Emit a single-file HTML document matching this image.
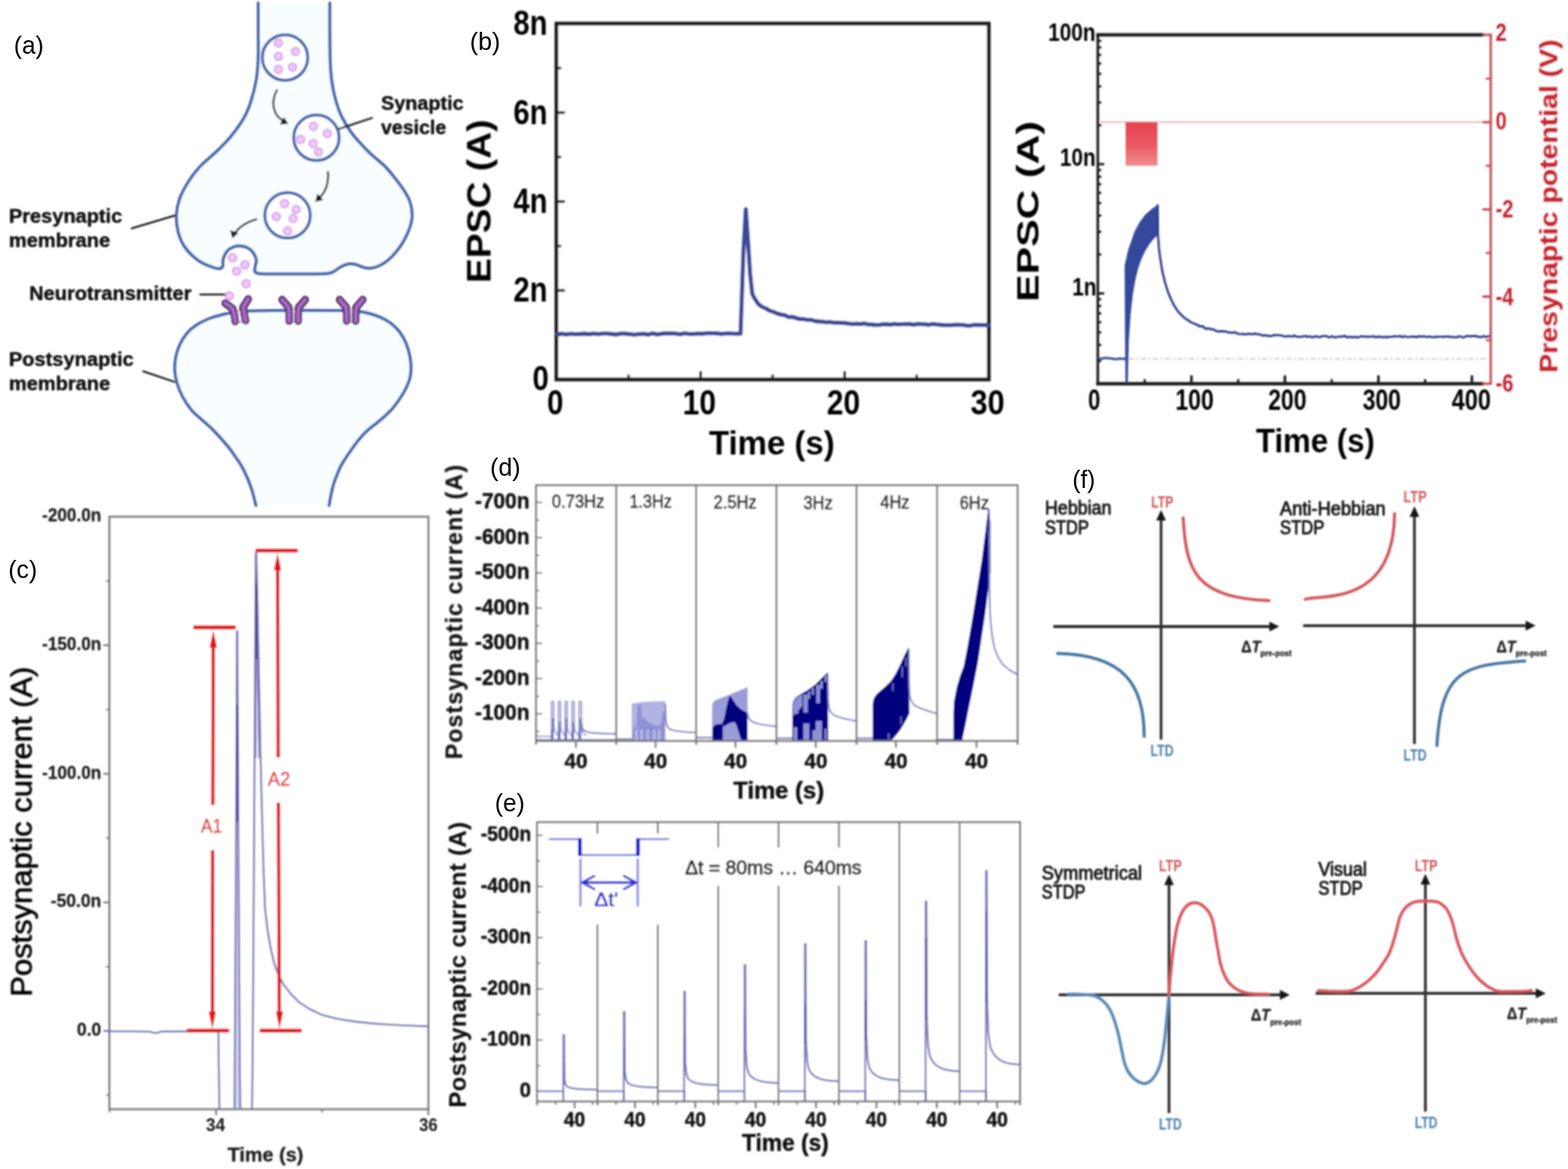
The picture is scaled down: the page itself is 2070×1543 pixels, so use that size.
<!DOCTYPE html>
<html lang="en"><head><meta charset="utf-8"><title>Synaptic plasticity figure</title>
<style>html,body{margin:0;padding:0;background:#fff;}body{width:2070px;height:1543px;overflow:hidden;}svg{display:block;}text{font-family:"Liberation Sans",Arial,Helvetica,sans-serif;}</style>
</head><body>
<svg width="2070" height="1543" viewBox="0 0 2070 1543">
<defs><filter id="bla" filterUnits="userSpaceOnUse" x="0" y="0" width="2070" height="1543"><feGaussianBlur stdDeviation="0.9"/></filter><filter id="blb" filterUnits="userSpaceOnUse" x="0" y="0" width="2070" height="1543"><feGaussianBlur stdDeviation="0.9"/></filter><filter id="blc" filterUnits="userSpaceOnUse" x="0" y="0" width="2070" height="1543"><feGaussianBlur stdDeviation="0.9"/></filter><filter id="bld" filterUnits="userSpaceOnUse" x="0" y="0" width="2070" height="1543"><feGaussianBlur stdDeviation="0.9"/></filter><filter id="ble" filterUnits="userSpaceOnUse" x="0" y="0" width="2070" height="1543"><feGaussianBlur stdDeviation="0.9"/></filter><filter id="blf" filterUnits="userSpaceOnUse" x="0" y="0" width="2070" height="1543"><feGaussianBlur stdDeviation="0.9"/></filter></defs>
<rect x="0" y="0" width="2070" height="1543" fill="#fff"/>
<g filter="url(#bla)">
<path d="M341.0,4.0 C341.0,10.0 341.0,28.2 341.0,40.0 C341.0,51.8 341.4,64.2 341.0,75.0 C340.6,85.8 340.2,95.0 338.5,105.0 C336.8,115.0 333.8,126.5 331.0,135.0 C328.2,143.5 326.3,148.5 322.0,156.0 C317.7,163.5 310.7,173.0 305.0,180.0 C299.3,187.0 294.8,191.3 288.0,198.0 C281.2,204.7 270.8,212.7 264.0,220.0 C257.2,227.3 251.9,234.8 247.4,242.0 C242.9,249.2 239.4,256.0 237.0,263.0 C234.6,270.0 233.3,276.8 233.0,284.0 C232.7,291.2 233.5,299.0 235.3,306.0 C237.1,313.0 239.6,319.7 244.0,326.0 C248.4,332.3 255.9,339.3 261.7,343.6 C267.5,347.9 274.3,350.2 279.0,352.0 C283.7,353.8 287.5,354.7 290.0,354.5 C292.5,354.3 293.2,353.1 294.0,351.0 C294.8,348.9 293.5,345.3 294.5,342.0 C295.5,338.7 297.6,333.8 300.0,331.0 C302.4,328.2 306.2,326.6 309.0,325.5 C311.8,324.4 314.2,324.3 317.0,324.5 C319.8,324.7 323.2,325.1 326.0,326.5 C328.8,327.9 331.9,330.2 334.0,333.0 C336.1,335.8 338.0,339.8 338.5,343.0 C339.0,346.2 337.3,349.5 337.0,352.0 C336.7,354.5 335.7,356.5 336.5,358.0 C337.3,359.5 338.1,360.4 342.0,361.0 C345.9,361.6 350.3,361.4 360.0,361.5 C369.7,361.6 388.1,361.6 400.0,361.5 C411.9,361.4 424.6,361.6 431.4,361.0 C438.2,360.4 437.9,359.5 441.0,358.0 C444.1,356.5 446.8,353.6 450.0,352.0 C453.2,350.4 456.7,348.8 460.0,348.3 C463.3,347.8 466.8,348.3 470.0,349.0 C473.2,349.7 476.0,351.7 479.0,352.5 C482.0,353.3 484.5,354.2 488.0,354.0 C491.5,353.8 496.0,352.8 500.0,351.0 C504.0,349.2 508.0,346.8 512.0,343.5 C516.0,340.2 520.3,335.6 524.0,331.0 C527.7,326.4 531.2,321.2 534.0,316.0 C536.8,310.8 539.3,305.3 541.0,300.0 C542.7,294.7 544.0,289.7 544.0,284.0 C544.0,278.3 542.8,271.5 541.0,266.0 C539.2,260.5 536.2,256.0 533.0,251.0 C529.8,246.0 526.1,241.2 522.0,236.0 C517.9,230.8 512.8,224.5 508.5,220.0 C504.2,215.5 500.1,212.7 496.0,209.0 C491.9,205.3 489.3,203.5 484.0,198.0 C478.7,192.5 469.9,183.3 464.4,176.0 C458.9,168.7 454.6,161.3 451.0,154.0 C447.4,146.7 445.2,139.7 443.0,132.0 C440.8,124.3 439.2,116.7 438.0,108.0 C436.8,99.3 436.2,91.3 435.8,80.0 C435.4,68.7 435.4,52.7 435.3,40.0 C435.2,27.3 435.3,10.0 435.3,4.0 Z" fill="#f8feff" stroke="none"/>
<path d="M341.0,4.0 C341.0,10.0 341.0,28.2 341.0,40.0 C341.0,51.8 341.4,64.2 341.0,75.0 C340.6,85.8 340.2,95.0 338.5,105.0 C336.8,115.0 333.8,126.5 331.0,135.0 C328.2,143.5 326.3,148.5 322.0,156.0 C317.7,163.5 310.7,173.0 305.0,180.0 C299.3,187.0 294.8,191.3 288.0,198.0 C281.2,204.7 270.8,212.7 264.0,220.0 C257.2,227.3 251.9,234.8 247.4,242.0 C242.9,249.2 239.4,256.0 237.0,263.0 C234.6,270.0 233.3,276.8 233.0,284.0 C232.7,291.2 233.5,299.0 235.3,306.0 C237.1,313.0 239.6,319.7 244.0,326.0 C248.4,332.3 255.9,339.3 261.7,343.6 C267.5,347.9 274.3,350.2 279.0,352.0 C283.7,353.8 287.5,354.7 290.0,354.5 C292.5,354.3 293.2,353.1 294.0,351.0 C294.8,348.9 293.5,345.3 294.5,342.0 C295.5,338.7 297.6,333.8 300.0,331.0 C302.4,328.2 306.2,326.6 309.0,325.5 C311.8,324.4 314.2,324.3 317.0,324.5 C319.8,324.7 323.2,325.1 326.0,326.5 C328.8,327.9 331.9,330.2 334.0,333.0 C336.1,335.8 338.0,339.8 338.5,343.0 C339.0,346.2 337.3,349.5 337.0,352.0 C336.7,354.5 335.7,356.5 336.5,358.0 C337.3,359.5 338.1,360.4 342.0,361.0 C345.9,361.6 350.3,361.4 360.0,361.5 C369.7,361.6 388.1,361.6 400.0,361.5 C411.9,361.4 424.6,361.6 431.4,361.0 C438.2,360.4 437.9,359.5 441.0,358.0 C444.1,356.5 446.8,353.6 450.0,352.0 C453.2,350.4 456.7,348.8 460.0,348.3 C463.3,347.8 466.8,348.3 470.0,349.0 C473.2,349.7 476.0,351.7 479.0,352.5 C482.0,353.3 484.5,354.2 488.0,354.0 C491.5,353.8 496.0,352.8 500.0,351.0 C504.0,349.2 508.0,346.8 512.0,343.5 C516.0,340.2 520.3,335.6 524.0,331.0 C527.7,326.4 531.2,321.2 534.0,316.0 C536.8,310.8 539.3,305.3 541.0,300.0 C542.7,294.7 544.0,289.7 544.0,284.0 C544.0,278.3 542.8,271.5 541.0,266.0 C539.2,260.5 536.2,256.0 533.0,251.0 C529.8,246.0 526.1,241.2 522.0,236.0 C517.9,230.8 512.8,224.5 508.5,220.0 C504.2,215.5 500.1,212.7 496.0,209.0 C491.9,205.3 489.3,203.5 484.0,198.0 C478.7,192.5 469.9,183.3 464.4,176.0 C458.9,168.7 454.6,161.3 451.0,154.0 C447.4,146.7 445.2,139.7 443.0,132.0 C440.8,124.3 439.2,116.7 438.0,108.0 C436.8,99.3 436.2,91.3 435.8,80.0 C435.4,68.7 435.4,52.7 435.3,40.0 C435.2,27.3 435.3,10.0 435.3,4.0" fill="none" stroke="#4164ab" stroke-width="4.0" stroke-linejoin="round" stroke-linecap="round" />
<path d="M338.0,667.0 C337.0,663.2 334.6,652.1 331.9,644.3 C329.2,636.5 325.2,626.9 321.7,620.0 C318.2,613.1 314.4,608.1 311.0,603.0 C307.6,597.9 306.4,595.6 301.4,589.6 C296.4,583.6 286.9,573.0 281.0,567.0 C275.1,561.0 270.7,557.9 266.0,553.5 C261.3,549.1 256.9,546.0 252.7,540.9 C248.5,535.8 243.8,528.7 240.6,522.6 C237.4,516.5 235.1,509.9 233.5,504.3 C231.9,498.7 231.1,494.4 230.8,489.0 C230.6,483.6 231.0,477.5 232.0,472.0 C233.0,466.5 234.7,461.2 237.0,456.0 C239.3,450.8 242.5,445.3 246.0,441.0 C249.5,436.7 253.3,433.2 258.0,430.0 C262.7,426.8 267.8,424.0 274.0,421.5 C280.2,419.0 288.7,416.6 295.0,415.0 C301.3,413.4 306.2,412.8 312.0,412.0 C317.8,411.2 322.0,410.8 330.0,410.5 C338.0,410.2 348.3,410.1 360.0,410.0 C371.7,409.9 386.7,409.8 400.0,409.8 C413.3,409.8 428.3,409.8 440.0,410.0 C451.7,410.2 461.7,410.1 470.0,410.8 C478.3,411.6 483.6,412.6 490.0,414.5 C496.4,416.4 503.2,419.1 508.5,422.0 C513.8,424.9 518.1,428.2 522.0,432.0 C525.9,435.8 529.2,440.0 532.0,445.0 C534.8,450.0 537.3,456.2 539.0,462.0 C540.7,467.8 541.9,474.2 542.3,480.0 C542.7,485.8 542.5,491.7 541.5,497.0 C540.5,502.3 538.1,507.4 536.0,512.0 C533.9,516.6 532.0,519.8 528.7,524.6 C525.5,529.4 521.3,535.7 516.5,540.9 C511.7,546.1 505.4,551.3 500.0,556.0 C494.6,560.7 488.5,564.8 484.0,569.0 C479.5,573.2 476.4,576.9 473.0,581.0 C469.6,585.1 466.9,589.1 463.7,593.6 C460.5,598.1 456.7,603.6 454.0,608.0 C451.3,612.4 449.9,614.3 447.5,620.0 C445.1,625.7 441.6,634.2 439.4,642.0 C437.2,649.8 435.1,662.8 434.3,667.0 Z" fill="#f8feff" stroke="none"/>
<path d="M338.0,667.0 C337.0,663.2 334.6,652.1 331.9,644.3 C329.2,636.5 325.2,626.9 321.7,620.0 C318.2,613.1 314.4,608.1 311.0,603.0 C307.6,597.9 306.4,595.6 301.4,589.6 C296.4,583.6 286.9,573.0 281.0,567.0 C275.1,561.0 270.7,557.9 266.0,553.5 C261.3,549.1 256.9,546.0 252.7,540.9 C248.5,535.8 243.8,528.7 240.6,522.6 C237.4,516.5 235.1,509.9 233.5,504.3 C231.9,498.7 231.1,494.4 230.8,489.0 C230.6,483.6 231.0,477.5 232.0,472.0 C233.0,466.5 234.7,461.2 237.0,456.0 C239.3,450.8 242.5,445.3 246.0,441.0 C249.5,436.7 253.3,433.2 258.0,430.0 C262.7,426.8 267.8,424.0 274.0,421.5 C280.2,419.0 288.7,416.6 295.0,415.0 C301.3,413.4 306.2,412.8 312.0,412.0 C317.8,411.2 322.0,410.8 330.0,410.5 C338.0,410.2 348.3,410.1 360.0,410.0 C371.7,409.9 386.7,409.8 400.0,409.8 C413.3,409.8 428.3,409.8 440.0,410.0 C451.7,410.2 461.7,410.1 470.0,410.8 C478.3,411.6 483.6,412.6 490.0,414.5 C496.4,416.4 503.2,419.1 508.5,422.0 C513.8,424.9 518.1,428.2 522.0,432.0 C525.9,435.8 529.2,440.0 532.0,445.0 C534.8,450.0 537.3,456.2 539.0,462.0 C540.7,467.8 541.9,474.2 542.3,480.0 C542.7,485.8 542.5,491.7 541.5,497.0 C540.5,502.3 538.1,507.4 536.0,512.0 C533.9,516.6 532.0,519.8 528.7,524.6 C525.5,529.4 521.3,535.7 516.5,540.9 C511.7,546.1 505.4,551.3 500.0,556.0 C494.6,560.7 488.5,564.8 484.0,569.0 C479.5,573.2 476.4,576.9 473.0,581.0 C469.6,585.1 466.9,589.1 463.7,593.6 C460.5,598.1 456.7,603.6 454.0,608.0 C451.3,612.4 449.9,614.3 447.5,620.0 C445.1,625.7 441.6,634.2 439.4,642.0 C437.2,649.8 435.1,662.8 434.3,667.0" fill="none" stroke="#4164ab" stroke-width="4.0" stroke-linejoin="round" stroke-linecap="round" />
<circle cx="376.3" cy="76.0" r="30.0" fill="#ffffff" stroke="#4164ab" stroke-width="4.0"/>
<circle cx="367.5" cy="56.9" r="5.2" fill="#f3c8fd" stroke="#d3a0ec" stroke-width="2.0"/>
<circle cx="390.0" cy="67.9" r="5.2" fill="#f3c8fd" stroke="#d3a0ec" stroke-width="2.0"/>
<circle cx="367.5" cy="74.5" r="5.2" fill="#f3c8fd" stroke="#d3a0ec" stroke-width="2.0"/>
<circle cx="386.2" cy="88.6" r="5.2" fill="#f3c8fd" stroke="#d3a0ec" stroke-width="2.0"/>
<circle cx="367.5" cy="91.5" r="5.2" fill="#f3c8fd" stroke="#d3a0ec" stroke-width="2.0"/>
<circle cx="417.7" cy="181.8" r="30.0" fill="#ffffff" stroke="#4164ab" stroke-width="4.0"/>
<circle cx="413.7" cy="166.8" r="5.2" fill="#f3c8fd" stroke="#d3a0ec" stroke-width="2.0"/>
<circle cx="432.0" cy="176.3" r="5.2" fill="#f3c8fd" stroke="#d3a0ec" stroke-width="2.0"/>
<circle cx="396.8" cy="184.0" r="5.2" fill="#f3c8fd" stroke="#d3a0ec" stroke-width="2.0"/>
<circle cx="413.3" cy="189.5" r="5.2" fill="#f3c8fd" stroke="#d3a0ec" stroke-width="2.0"/>
<circle cx="420.4" cy="200.5" r="5.2" fill="#f3c8fd" stroke="#d3a0ec" stroke-width="2.0"/>
<circle cx="379.6" cy="284.3" r="30.0" fill="#ffffff" stroke="#4164ab" stroke-width="4.0"/>
<circle cx="375.8" cy="268.8" r="5.2" fill="#f3c8fd" stroke="#d3a0ec" stroke-width="2.0"/>
<circle cx="391.0" cy="276.6" r="5.2" fill="#f3c8fd" stroke="#d3a0ec" stroke-width="2.0"/>
<circle cx="364.8" cy="286.0" r="5.2" fill="#f3c8fd" stroke="#d3a0ec" stroke-width="2.0"/>
<circle cx="386.9" cy="288.7" r="5.2" fill="#f3c8fd" stroke="#d3a0ec" stroke-width="2.0"/>
<circle cx="379.6" cy="304.8" r="5.2" fill="#f3c8fd" stroke="#d3a0ec" stroke-width="2.0"/>
<circle cx="306.9" cy="340.3" r="5.2" fill="#f3c8fd" stroke="#d3a0ec" stroke-width="2.0"/>
<circle cx="323.4" cy="349.5" r="5.2" fill="#f3c8fd" stroke="#d3a0ec" stroke-width="2.0"/>
<circle cx="312.4" cy="357.9" r="5.2" fill="#f3c8fd" stroke="#d3a0ec" stroke-width="2.0"/>
<circle cx="325.0" cy="374.4" r="5.2" fill="#f3c8fd" stroke="#d3a0ec" stroke-width="2.0"/>
<circle cx="302.5" cy="390.5" r="5.2" fill="#f3c8fd" stroke="#d3a0ec" stroke-width="2.0"/>
<path d="M365.5,119 C357,135 360,153 376,160.5" fill="none" stroke="#141414" stroke-width="2.6" stroke-linejoin="round" stroke-linecap="round" />
<polygon points="380.6,163.2 369.6,164.6 374.6,154.4" fill="#141414" stroke="none" stroke-width="0" stroke-linejoin="round" />
<path d="M432.8,227 C434.5,243 429,255 420,262.5" fill="none" stroke="#141414" stroke-width="2.6" stroke-linejoin="round" stroke-linecap="round" />
<polygon points="416.2,266.6 419.0,255.6 426.6,264.0" fill="#141414" stroke="none" stroke-width="0" stroke-linejoin="round" />
<path d="M338.5,289.5 C326,293 315,300 309.5,309" fill="none" stroke="#141414" stroke-width="2.6" stroke-linejoin="round" stroke-linecap="round" />
<polygon points="306.8,314.8 303.8,303.8 314.6,307.4" fill="#141414" stroke="none" stroke-width="0" stroke-linejoin="round" />
<polygon points="312.2,410.0 318.6,409.0 321.8,424.6 313.0,425.6" fill="#f3e2fb" stroke="#8a8490" stroke-width="1.2" stroke-linejoin="round" />
<polyline points="297.4,400.2 306.8,407.2 309.2,415.0 310.4,424.6" fill="none" stroke="#40214f" stroke-width="10.0" stroke-linejoin="round" stroke-linecap="round"/>
<polyline points="327.6,394.8 320.9,405.6 322.6,415.0 324.4,423.4" fill="none" stroke="#40214f" stroke-width="10.0" stroke-linejoin="round" stroke-linecap="round"/>
<polyline points="297.4,400.2 306.8,407.2 309.2,415.0 310.4,424.6" fill="none" stroke="#a868c6" stroke-width="5.4" stroke-linejoin="round" stroke-linecap="round"/>
<polyline points="327.6,394.8 320.9,405.6 322.6,415.0 324.4,423.4" fill="none" stroke="#a868c6" stroke-width="5.4" stroke-linejoin="round" stroke-linecap="round"/>
<polygon points="384.3,408.0 391.1,408.0 391.3,424.8 384.1,424.8" fill="#f3e2fb" stroke="#8a8490" stroke-width="1.2" stroke-linejoin="round" />
<polyline points="372.5,395.6 381.1,405.8 381.7,415.0 381.7,424.0" fill="none" stroke="#40214f" stroke-width="10.0" stroke-linejoin="round" stroke-linecap="round"/>
<polyline points="402.9,395.6 394.3,405.8 393.7,415.0 393.7,424.0" fill="none" stroke="#40214f" stroke-width="10.0" stroke-linejoin="round" stroke-linecap="round"/>
<polyline points="372.5,395.6 381.1,405.8 381.7,415.0 381.7,424.0" fill="none" stroke="#a868c6" stroke-width="5.4" stroke-linejoin="round" stroke-linecap="round"/>
<polyline points="402.9,395.6 394.3,405.8 393.7,415.0 393.7,424.0" fill="none" stroke="#a868c6" stroke-width="5.4" stroke-linejoin="round" stroke-linecap="round"/>
<polygon points="460.2,408.0 467.0,408.0 467.2,424.8 460.0,424.8" fill="#f3e2fb" stroke="#8a8490" stroke-width="1.2" stroke-linejoin="round" />
<polyline points="448.4,395.6 457.0,405.8 457.6,415.0 457.6,424.0" fill="none" stroke="#40214f" stroke-width="10.0" stroke-linejoin="round" stroke-linecap="round"/>
<polyline points="478.8,395.6 470.2,405.8 469.6,415.0 469.6,424.0" fill="none" stroke="#40214f" stroke-width="10.0" stroke-linejoin="round" stroke-linecap="round"/>
<polyline points="448.4,395.6 457.0,405.8 457.6,415.0 457.6,424.0" fill="none" stroke="#a868c6" stroke-width="5.4" stroke-linejoin="round" stroke-linecap="round"/>
<polyline points="478.8,395.6 470.2,405.8 469.6,415.0 469.6,424.0" fill="none" stroke="#a868c6" stroke-width="5.4" stroke-linejoin="round" stroke-linecap="round"/>
<line x1="173.0" y1="301.8" x2="231.5" y2="284.3" stroke="#1e1e1e" stroke-width="2.5" />
<line x1="263.4" y1="388.7" x2="297.4" y2="388.7" stroke="#1e1e1e" stroke-width="2.5" />
<line x1="188.2" y1="489.8" x2="231.3" y2="504.4" stroke="#1e1e1e" stroke-width="2.5" />
<line x1="492.0" y1="155.4" x2="445.7" y2="170.8" stroke="#1e1e1e" stroke-width="2.5" />
<text x="11.7" y="293.5" font-size="26" font-weight="bold" fill="#080808" textLength="149.7" lengthAdjust="spacingAndGlyphs" stroke="#080808" stroke-width="0.4" stroke-linejoin="round">Presynaptic</text>
<text x="11.7" y="325.5" font-size="26" font-weight="bold" fill="#080808" textLength="133.7" lengthAdjust="spacingAndGlyphs" stroke="#080808" stroke-width="0.4" stroke-linejoin="round">membrane</text>
<text x="38.5" y="395.5" font-size="26" font-weight="bold" fill="#080808" textLength="214.2" lengthAdjust="spacingAndGlyphs" stroke="#080808" stroke-width="0.4" stroke-linejoin="round">Neurotransmitter</text>
<text x="11.7" y="483.0" font-size="26" font-weight="bold" fill="#080808" textLength="164.8" lengthAdjust="spacingAndGlyphs" stroke="#080808" stroke-width="0.4" stroke-linejoin="round">Postsynaptic</text>
<text x="11.7" y="514.5" font-size="26" font-weight="bold" fill="#080808" textLength="133.7" lengthAdjust="spacingAndGlyphs" stroke="#080808" stroke-width="0.4" stroke-linejoin="round">membrane</text>
<text x="503.0" y="145.4" font-size="26" font-weight="bold" fill="#080808" textLength="109.0" lengthAdjust="spacingAndGlyphs" stroke="#080808" stroke-width="0.4" stroke-linejoin="round">Synaptic</text>
<text x="503.0" y="177.4" font-size="26" font-weight="bold" fill="#080808" textLength="86.0" lengthAdjust="spacingAndGlyphs" stroke="#080808" stroke-width="0.4" stroke-linejoin="round">vesicle</text>
</g>
<g filter="url(#blc)">
<rect x="144.5" y="682.1" width="420.9" height="781.9" fill="#fff" stroke="#7c7c7c" stroke-width="2.8" />
<line x1="136.5" y1="851.7" x2="144.5" y2="851.7" stroke="#7c7c7c" stroke-width="2.4" />
<line x1="136.5" y1="1021.4" x2="144.5" y2="1021.4" stroke="#7c7c7c" stroke-width="2.4" />
<line x1="136.5" y1="1191.1" x2="144.5" y2="1191.1" stroke="#7c7c7c" stroke-width="2.4" />
<line x1="136.5" y1="1360.8" x2="144.5" y2="1360.8" stroke="#7c7c7c" stroke-width="2.4" />
<line x1="140.0" y1="766.9" x2="144.5" y2="766.9" stroke="#7c7c7c" stroke-width="2" />
<line x1="140.0" y1="936.5" x2="144.5" y2="936.5" stroke="#7c7c7c" stroke-width="2" />
<line x1="140.0" y1="1106.2" x2="144.5" y2="1106.2" stroke="#7c7c7c" stroke-width="2" />
<line x1="140.0" y1="1276.0" x2="144.5" y2="1276.0" stroke="#7c7c7c" stroke-width="2" />
<line x1="140.0" y1="1445.6" x2="144.5" y2="1445.6" stroke="#7c7c7c" stroke-width="2" />
<text x="133.6" y="688.2" font-size="23" font-weight="bold" fill="#1c1c1c" text-anchor="end" textLength="78.0" lengthAdjust="spacingAndGlyphs" stroke="#1c1c1c" stroke-width="0.3" stroke-linejoin="round">-200.0n</text>
<text x="133.6" y="857.9" font-size="23" font-weight="bold" fill="#1c1c1c" text-anchor="end" textLength="78.0" lengthAdjust="spacingAndGlyphs" stroke="#1c1c1c" stroke-width="0.3" stroke-linejoin="round">-150.0n</text>
<text x="133.6" y="1027.6" font-size="23" font-weight="bold" fill="#1c1c1c" text-anchor="end" textLength="78.0" lengthAdjust="spacingAndGlyphs" stroke="#1c1c1c" stroke-width="0.3" stroke-linejoin="round">-100.0n</text>
<text x="133.6" y="1197.3" font-size="23" font-weight="bold" fill="#1c1c1c" text-anchor="end" textLength="66.5" lengthAdjust="spacingAndGlyphs" stroke="#1c1c1c" stroke-width="0.3" stroke-linejoin="round">-50.0n</text>
<text x="133.6" y="1367.0" font-size="23" font-weight="bold" fill="#1c1c1c" text-anchor="end" textLength="32.0" lengthAdjust="spacingAndGlyphs" stroke="#1c1c1c" stroke-width="0.3" stroke-linejoin="round">0.0</text>
<line x1="285.3" y1="1464.0" x2="285.3" y2="1472.0" stroke="#7c7c7c" stroke-width="2.4" />
<line x1="565.4" y1="1464.0" x2="565.4" y2="1472.0" stroke="#7c7c7c" stroke-width="2.4" />
<line x1="144.5" y1="1464.0" x2="144.5" y2="1468.5" stroke="#7c7c7c" stroke-width="2" />
<line x1="425.3" y1="1464.0" x2="425.3" y2="1468.5" stroke="#7c7c7c" stroke-width="2" />
<text x="284.5" y="1493.2" font-size="23.5" font-weight="bold" fill="#1c1c1c" text-anchor="middle" textLength="25.5" lengthAdjust="spacingAndGlyphs">34</text>
<text x="565.4" y="1493.2" font-size="23.5" font-weight="bold" fill="#1c1c1c" text-anchor="middle" textLength="24.5" lengthAdjust="spacingAndGlyphs">36</text>
<text x="300.5" y="1533.3" font-size="25.5" font-weight="bold" fill="#1c1c1c" textLength="100.0" lengthAdjust="spacingAndGlyphs" stroke="#1c1c1c" stroke-width="0.35" stroke-linejoin="round">Time (s)</text>
<text x="41.3" y="1315.5" font-size="38" textLength="435.5" lengthAdjust="spacingAndGlyphs" transform="rotate(-90 41.3 1315.5)" stroke="#000" stroke-width="0.8" stroke-linejoin="round">Postsynaptic current (A)</text>
<polyline points="145.5,1361.2 175.0,1361.3 198.0,1361.8 203.0,1363.2 208.0,1363.2 213.0,1361.6 240.0,1361.4 262.0,1361.0 288.2,1360.5 289.6,1463.0" fill="none" stroke="#7478b8" stroke-width="2.6" stroke-linejoin="round" stroke-linecap="round" />
<polygon points="309.8,1463.0 311.0,1250.0 312.6,1130.0 313.8,1130.0 315.4,1250.0 317.0,1463.0" fill="#d3d5f2" stroke="none" stroke-width="0" stroke-linejoin="round" />
<polyline points="309.6,1463.0 310.2,1360.0 311.8,1080.0 312.8,833.0 313.4,833.0 314.6,1080.0 316.2,1360.0 317.2,1463.0" fill="none" stroke="#7478b8" stroke-width="2.6" stroke-linejoin="round" stroke-linecap="round" />
<line x1="313.0" y1="930.0" x2="313.3" y2="1085.0" stroke="#3c4296" stroke-width="2.4" />
<polyline points="332.8,1463.0 333.8,1360.0 335.5,1100.0 337.6,730.0 338.4,730.0 340.0,800.0 342.0,900.0 344.0,1000.0 346.5,1099.0 348.0,1150.0 350.0,1200.0 353.0,1226.0 357.0,1250.0 362.0,1272.0 367.0,1285.0 374.0,1299.0 384.0,1312.0 395.0,1323.0 408.0,1331.5 425.0,1339.6 445.0,1344.8 470.0,1348.6 492.0,1350.9 515.0,1352.5 540.0,1353.7 564.5,1354.6" fill="none" stroke="#7478b8" stroke-width="2.6" stroke-linejoin="round" stroke-linecap="round" />
<polyline points="337.6,1000.0 338.0,780.0 338.6,760.0 340.2,900.0 341.8,1000.0" fill="none" stroke="#6469b4" stroke-width="1.6" stroke-linejoin="round" stroke-linecap="round" />
<line x1="338.0" y1="770.0" x2="338.4" y2="870.0" stroke="#3c4296" stroke-width="2.2" />
<line x1="255.2" y1="828.2" x2="311.2" y2="828.2" stroke="#e3161f" stroke-width="5.2" />
<line x1="337.3" y1="726.6" x2="393.2" y2="726.6" stroke="#e3161f" stroke-width="5.2" />
<line x1="246.5" y1="1360.3" x2="302.5" y2="1360.3" stroke="#e3161f" stroke-width="5.2" />
<line x1="342.8" y1="1360.3" x2="398.3" y2="1360.3" stroke="#e3161f" stroke-width="5.2" />
<line x1="281.5" y1="850.0" x2="281.0" y2="1062.5" stroke="#e3161f" stroke-width="4.6" />
<polygon points="281.6,832.0 276.6,855.0 286.6,855.0" fill="#e3161f" stroke="none" stroke-width="0" stroke-linejoin="round" />
<line x1="280.8" y1="1122.0" x2="280.4" y2="1338.0" stroke="#e3161f" stroke-width="4.6" />
<polygon points="280.3,1358.0 275.4,1335.0 285.2,1335.0" fill="#e3161f" stroke="none" stroke-width="0" stroke-linejoin="round" />
<line x1="366.6" y1="750.0" x2="367.2" y2="999.7" stroke="#e3161f" stroke-width="4.6" />
<polygon points="366.4,730.0 361.5,753.0 371.4,753.0" fill="#e3161f" stroke="none" stroke-width="0" stroke-linejoin="round" />
<line x1="367.6" y1="1059.5" x2="368.8" y2="1338.0" stroke="#e3161f" stroke-width="4.6" />
<polygon points="369.0,1358.0 364.1,1335.0 373.9,1335.0" fill="#e3161f" stroke="none" stroke-width="0" stroke-linejoin="round" />
<text x="265.2" y="1098.5" font-size="26.5" fill="#e2222b" textLength="28.0" lengthAdjust="spacingAndGlyphs" stroke="#e2222b" stroke-width="0.4" stroke-linejoin="round">A1</text>
<text x="353.6" y="1036.6" font-size="26.5" fill="#e2222b" textLength="29.5" lengthAdjust="spacingAndGlyphs" stroke="#e2222b" stroke-width="0.4" stroke-linejoin="round">A2</text>
</g>
<g filter="url(#blb)">
<rect x="734.6" y="31.2" width="570.7" height="469.6" fill="#fff" stroke="#1c1c1c" stroke-width="5.0" />
<line x1="734.6" y1="383.4" x2="745.6" y2="383.4" stroke="#1c1c1c" stroke-width="3.6" />
<line x1="734.6" y1="266.0" x2="745.6" y2="266.0" stroke="#1c1c1c" stroke-width="3.6" />
<line x1="734.6" y1="148.6" x2="745.6" y2="148.6" stroke="#1c1c1c" stroke-width="3.6" />
<line x1="734.6" y1="442.1" x2="741.1" y2="442.1" stroke="#1c1c1c" stroke-width="3.2" />
<line x1="734.6" y1="324.7" x2="741.1" y2="324.7" stroke="#1c1c1c" stroke-width="3.2" />
<line x1="734.6" y1="207.3" x2="741.1" y2="207.3" stroke="#1c1c1c" stroke-width="3.2" />
<line x1="734.6" y1="89.9" x2="741.1" y2="89.9" stroke="#1c1c1c" stroke-width="3.2" />
<line x1="924.8" y1="500.8" x2="924.8" y2="489.8" stroke="#1c1c1c" stroke-width="3.6" />
<line x1="1115.1" y1="500.8" x2="1115.1" y2="489.8" stroke="#1c1c1c" stroke-width="3.6" />
<line x1="829.7" y1="500.8" x2="829.7" y2="494.3" stroke="#1c1c1c" stroke-width="3.2" />
<line x1="1020.0" y1="500.8" x2="1020.0" y2="494.3" stroke="#1c1c1c" stroke-width="3.2" />
<line x1="1210.2" y1="500.8" x2="1210.2" y2="494.3" stroke="#1c1c1c" stroke-width="3.2" />
<text x="722.8" y="46.2" font-size="46" font-weight="bold" fill="#050505" text-anchor="end" textLength="45.0" lengthAdjust="spacingAndGlyphs">8n</text>
<text x="722.8" y="163.6" font-size="46" font-weight="bold" fill="#050505" text-anchor="end" textLength="45.0" lengthAdjust="spacingAndGlyphs">6n</text>
<text x="722.8" y="281.0" font-size="46" font-weight="bold" fill="#050505" text-anchor="end" textLength="45.0" lengthAdjust="spacingAndGlyphs">4n</text>
<text x="722.8" y="398.4" font-size="46" font-weight="bold" fill="#050505" text-anchor="end" textLength="45.0" lengthAdjust="spacingAndGlyphs">2n</text>
<text x="724.5" y="514.8" font-size="46" font-weight="bold" fill="#050505" text-anchor="end" textLength="21.5" lengthAdjust="spacingAndGlyphs">0</text>
<text x="733.1" y="547.3" font-size="46" font-weight="bold" fill="#050505" text-anchor="middle" textLength="21.5" lengthAdjust="spacingAndGlyphs">0</text>
<text x="923.3" y="547.3" font-size="46" font-weight="bold" fill="#050505" text-anchor="middle" textLength="44.0" lengthAdjust="spacingAndGlyphs">10</text>
<text x="1113.6" y="547.3" font-size="46" font-weight="bold" fill="#050505" text-anchor="middle" textLength="44.0" lengthAdjust="spacingAndGlyphs">20</text>
<text x="1303.8" y="547.3" font-size="46" font-weight="bold" fill="#050505" text-anchor="middle" textLength="45.0" lengthAdjust="spacingAndGlyphs">30</text>
<text x="936.0" y="600.0" font-size="45" font-weight="bold" fill="#050505" textLength="166.0" lengthAdjust="spacingAndGlyphs">Time (s)</text>
<text x="647.2" y="373.6" font-size="44" font-weight="bold" fill="#050505" textLength="216.0" lengthAdjust="spacingAndGlyphs" transform="rotate(-90 647.2 373.6)">EPSC (A)</text>
<polyline points="735.6,441.0 741.6,440.6 747.6,441.5 753.6,440.5 759.6,441.3 765.6,440.9 771.6,440.4 777.6,441.1 783.6,440.3 789.6,441.0 795.6,440.3 801.6,440.3 807.6,440.9 813.6,441.6 819.6,440.3 825.6,440.4 831.6,441.1 837.6,441.7 843.6,441.0 849.6,440.6 855.6,441.7 861.6,440.0 867.6,441.4 873.6,440.4 879.6,440.1 885.6,440.0 891.6,440.3 897.6,441.2 903.6,440.0 909.6,440.7 915.6,440.8 921.6,440.3 927.6,440.6 933.6,439.7 939.6,439.7 945.6,439.9 951.6,440.7 957.6,440.3 963.6,440.0 969.6,440.5 975.6,440.2 977.6,440.5 979.2,395.0 981.5,330.0 984.6,276.0 987.5,318.0 990.3,362.0 993.1,388.0 996.0,393.6 1001.0,401.3 1006.0,405.0 1011.0,407.0 1016.0,410.1 1021.0,411.6 1026.0,413.8 1031.0,415.2 1036.0,416.1 1041.0,418.5 1046.0,418.3 1051.0,419.8 1056.0,421.2 1061.0,421.1 1066.0,422.3 1071.0,422.2 1076.0,423.8 1081.0,424.4 1086.0,424.6 1091.0,425.5 1096.0,425.0 1101.0,425.9 1106.0,426.0 1111.0,426.3 1116.0,426.4 1121.0,427.3 1126.0,427.8 1131.0,427.3 1136.0,427.8 1141.0,427.0 1146.0,428.3 1151.0,428.4 1156.0,429.0 1161.0,428.7 1166.0,427.9 1171.0,428.1 1176.0,428.5 1181.0,427.5 1186.0,428.2 1191.0,427.8 1196.0,427.7 1201.0,427.6 1206.0,428.7 1211.0,427.6 1216.0,427.8 1221.0,428.0 1226.0,428.8 1231.0,427.6 1236.0,428.3 1241.0,428.6 1246.0,429.2 1251.0,429.2 1256.0,429.3 1261.0,428.5 1266.0,428.8 1271.0,428.8 1276.0,429.7 1281.0,429.9 1286.0,428.7 1291.0,428.9 1296.0,429.0 1301.0,429.1 1304.0,429.6" fill="none" stroke="#3b4a98" stroke-width="5.6" stroke-linejoin="round" stroke-linecap="round" />
<line x1="1447.1" y1="46.0" x2="1959.0" y2="46.0" stroke="#1c1c1c" stroke-width="4.6" />
<line x1="1449.3" y1="46.0" x2="1449.3" y2="508.5" stroke="#1c1c1c" stroke-width="3.4" />
<line x1="1447.1" y1="506.5" x2="1959.0" y2="506.5" stroke="#1c1c1c" stroke-width="4.4" />
<line x1="1968.0" y1="44.5" x2="1968.0" y2="508.0" stroke="#c4474c" stroke-width="3" />
<line x1="1957.0" y1="46.0" x2="1968.0" y2="46.0" stroke="#c4474c" stroke-width="3" />
<line x1="1957.0" y1="506.5" x2="1968.0" y2="506.5" stroke="#c4474c" stroke-width="3" />
<line x1="1449.3" y1="165.3" x2="1453.9" y2="165.3" stroke="#1c1c1c" stroke-width="2.8" />
<line x1="1449.3" y1="135.3" x2="1453.9" y2="135.3" stroke="#1c1c1c" stroke-width="2.8" />
<line x1="1449.3" y1="114.0" x2="1453.9" y2="114.0" stroke="#1c1c1c" stroke-width="2.8" />
<line x1="1449.3" y1="97.4" x2="1453.9" y2="97.4" stroke="#1c1c1c" stroke-width="2.8" />
<line x1="1449.3" y1="83.9" x2="1453.9" y2="83.9" stroke="#1c1c1c" stroke-width="2.8" />
<line x1="1449.3" y1="72.5" x2="1453.9" y2="72.5" stroke="#1c1c1c" stroke-width="2.8" />
<line x1="1449.3" y1="62.6" x2="1453.9" y2="62.6" stroke="#1c1c1c" stroke-width="2.8" />
<line x1="1449.3" y1="53.9" x2="1453.9" y2="53.9" stroke="#1c1c1c" stroke-width="2.8" />
<line x1="1449.3" y1="335.9" x2="1453.9" y2="335.9" stroke="#1c1c1c" stroke-width="2.8" />
<line x1="1449.3" y1="305.9" x2="1453.9" y2="305.9" stroke="#1c1c1c" stroke-width="2.8" />
<line x1="1449.3" y1="284.6" x2="1453.9" y2="284.6" stroke="#1c1c1c" stroke-width="2.8" />
<line x1="1449.3" y1="268.0" x2="1453.9" y2="268.0" stroke="#1c1c1c" stroke-width="2.8" />
<line x1="1449.3" y1="254.5" x2="1453.9" y2="254.5" stroke="#1c1c1c" stroke-width="2.8" />
<line x1="1449.3" y1="243.1" x2="1453.9" y2="243.1" stroke="#1c1c1c" stroke-width="2.8" />
<line x1="1449.3" y1="233.2" x2="1453.9" y2="233.2" stroke="#1c1c1c" stroke-width="2.8" />
<line x1="1449.3" y1="224.5" x2="1453.9" y2="224.5" stroke="#1c1c1c" stroke-width="2.8" />
<line x1="1449.3" y1="476.5" x2="1453.9" y2="476.5" stroke="#1c1c1c" stroke-width="2.8" />
<line x1="1449.3" y1="455.2" x2="1453.9" y2="455.2" stroke="#1c1c1c" stroke-width="2.8" />
<line x1="1449.3" y1="438.7" x2="1453.9" y2="438.7" stroke="#1c1c1c" stroke-width="2.8" />
<line x1="1449.3" y1="425.2" x2="1453.9" y2="425.2" stroke="#1c1c1c" stroke-width="2.8" />
<line x1="1449.3" y1="413.7" x2="1453.9" y2="413.7" stroke="#1c1c1c" stroke-width="2.8" />
<line x1="1449.3" y1="403.8" x2="1453.9" y2="403.8" stroke="#1c1c1c" stroke-width="2.8" />
<line x1="1449.3" y1="395.1" x2="1453.9" y2="395.1" stroke="#1c1c1c" stroke-width="2.8" />
<line x1="1449.3" y1="216.7" x2="1457.8" y2="216.7" stroke="#1c1c1c" stroke-width="3.0" />
<line x1="1449.3" y1="387.3" x2="1457.8" y2="387.3" stroke="#1c1c1c" stroke-width="3.0" />
<text x="1446.3" y="54.3" font-size="32.5" font-weight="bold" fill="#050505" text-anchor="end" textLength="62.5" lengthAdjust="spacingAndGlyphs">100n</text>
<text x="1446.3" y="218.8" font-size="32.5" font-weight="bold" fill="#050505" text-anchor="end" textLength="47.0" lengthAdjust="spacingAndGlyphs">10n</text>
<text x="1447.5" y="389.8" font-size="32.5" font-weight="bold" fill="#050505" text-anchor="end" textLength="32.0" lengthAdjust="spacingAndGlyphs">1n</text>
<line x1="1572.9" y1="506.5" x2="1572.9" y2="495.5" stroke="#1c1c1c" stroke-width="3.4" />
<line x1="1696.3" y1="506.5" x2="1696.3" y2="495.5" stroke="#1c1c1c" stroke-width="3.4" />
<line x1="1819.7" y1="506.5" x2="1819.7" y2="495.5" stroke="#1c1c1c" stroke-width="3.4" />
<line x1="1943.1" y1="506.5" x2="1943.1" y2="495.5" stroke="#1c1c1c" stroke-width="3.4" />
<line x1="1511.2" y1="506.5" x2="1511.2" y2="500.5" stroke="#1c1c1c" stroke-width="3" />
<line x1="1634.6" y1="506.5" x2="1634.6" y2="500.5" stroke="#1c1c1c" stroke-width="3" />
<line x1="1758.0" y1="506.5" x2="1758.0" y2="500.5" stroke="#1c1c1c" stroke-width="3" />
<line x1="1881.4" y1="506.5" x2="1881.4" y2="500.5" stroke="#1c1c1c" stroke-width="3" />
<text x="1444.5" y="540.6" font-size="38" font-weight="bold" fill="#050505" text-anchor="middle" textLength="16.0" lengthAdjust="spacingAndGlyphs">0</text>
<text x="1577.0" y="540.6" font-size="38" font-weight="bold" fill="#050505" text-anchor="middle" textLength="50.5" lengthAdjust="spacingAndGlyphs">100</text>
<text x="1699.5" y="540.6" font-size="38" font-weight="bold" fill="#050505" text-anchor="middle" textLength="50.5" lengthAdjust="spacingAndGlyphs">200</text>
<text x="1824.2" y="540.6" font-size="38" font-weight="bold" fill="#050505" text-anchor="middle" textLength="50.5" lengthAdjust="spacingAndGlyphs">300</text>
<text x="1942.3" y="540.6" font-size="38" font-weight="bold" fill="#050505" text-anchor="middle" textLength="51.5" lengthAdjust="spacingAndGlyphs">400</text>
<text x="1658.0" y="596.5" font-size="44" font-weight="bold" fill="#050505" textLength="157.0" lengthAdjust="spacingAndGlyphs">Time (s)</text>
<text x="1370.6" y="398.5" font-size="40" font-weight="bold" fill="#050505" textLength="239.0" lengthAdjust="spacingAndGlyphs" transform="rotate(-90 1370.6 398.5)">EPSC (A)</text>
<line x1="1957.0" y1="161.3" x2="1968.0" y2="161.3" stroke="#c4474c" stroke-width="3" />
<line x1="1957.0" y1="276.4" x2="1968.0" y2="276.4" stroke="#c4474c" stroke-width="3" />
<line x1="1957.0" y1="391.5" x2="1968.0" y2="391.5" stroke="#c4474c" stroke-width="3" />
<line x1="1961.5" y1="103.8" x2="1968.0" y2="103.8" stroke="#c4474c" stroke-width="2.6" />
<line x1="1961.5" y1="218.9" x2="1968.0" y2="218.9" stroke="#c4474c" stroke-width="2.6" />
<line x1="1961.5" y1="333.9" x2="1968.0" y2="333.9" stroke="#c4474c" stroke-width="2.6" />
<line x1="1961.5" y1="449.1" x2="1968.0" y2="449.1" stroke="#c4474c" stroke-width="2.6" />
<text x="1974.5" y="53.6" font-size="33" font-weight="bold" fill="#c5242d" textLength="14.5" lengthAdjust="spacingAndGlyphs">2</text>
<text x="1974.5" y="171.2" font-size="33" font-weight="bold" fill="#c5242d" textLength="14.5" lengthAdjust="spacingAndGlyphs">0</text>
<text x="1974.5" y="287.2" font-size="33" font-weight="bold" fill="#c5242d" textLength="23.5" lengthAdjust="spacingAndGlyphs">-2</text>
<text x="1974.5" y="402.8" font-size="33" font-weight="bold" fill="#c5242d" textLength="23.5" lengthAdjust="spacingAndGlyphs">-4</text>
<text x="1974.5" y="516.8" font-size="33" font-weight="bold" fill="#c5242d" textLength="23.5" lengthAdjust="spacingAndGlyphs">-6</text>
<text x="2055.8" y="492.0" font-size="33.5" font-weight="bold" fill="#c5242d" textLength="440.0" lengthAdjust="spacingAndGlyphs" transform="rotate(-90 2055.8 492.0)">Presynaptic potential (V)</text>
<line x1="1451.3" y1="161.3" x2="1958.0" y2="161.3" stroke="#eda0a4" stroke-width="1.6" />
<defs><linearGradient id="rg" x1="0" y1="0" x2="0" y2="1"><stop offset="0" stop-color="#e5444d"/><stop offset="0.55" stop-color="#e95a62"/><stop offset="1" stop-color="#f08e93"/></linearGradient></defs>
<rect x="1486.0" y="161.3" width="42.0" height="57.5" fill="url(#rg)" stroke="none" stroke-width="0" />
<line x1="1490.0" y1="473.6" x2="1965.0" y2="473.6" stroke="#c9c6c0" stroke-width="1.6" stroke-dasharray="7 3 3 3"/>
<polyline points="1451.3,473.3 1454.3,473.5 1457.3,472.8 1460.3,472.3 1463.3,473.1 1466.3,473.0 1469.3,473.4 1472.3,474.2 1475.3,473.7 1478.3,473.3 1481.3,473.5 1484.3,473.7 1485.0,473.3" fill="none" stroke="#3b4a98" stroke-width="3" stroke-linejoin="round" stroke-linecap="round" />
<polygon points="1485.2,351.0 1490.0,330.0 1498.5,305.5 1505.0,293.5 1511.5,284.8 1520.0,277.0 1528.3,271.0 1528.3,309.4 1522.0,315.5 1516.6,322.4 1511.0,331.5 1506.3,341.8 1502.0,354.0 1498.5,367.8 1495.0,388.0 1492.0,414.4 1489.6,450.0 1488.3,505.0 1486.3,505.0" fill="#34489c" stroke="#34489c" stroke-width="1.2" stroke-linejoin="round" />
<polyline points="1528.3,271.0 1528.5,290.0 1528.6,309.0 1530.0,327.7 1531.5,339.4 1533.0,349.3 1534.5,358.2 1536.0,364.6 1537.5,370.7 1539.0,375.9 1540.5,381.0 1542.0,385.6 1543.5,389.1 1545.0,392.9 1546.5,396.2 1548.0,399.2 1549.5,402.4 1551.0,404.7 1552.5,407.0 1554.0,409.3 1555.5,411.6 1557.0,413.2 1558.5,414.4 1560.0,416.4 1561.5,417.7 1563.0,418.8 1564.5,420.2 1566.0,421.2 1567.5,422.1 1569.0,422.9 1570.5,424.3 1572.0,425.3 1573.5,426.0 1575.0,426.6 1576.5,427.0 1578.0,427.7 1579.5,428.5 1581.0,428.7 1583.5,430.9 1586.0,430.5 1588.5,431.0 1591.0,433.7 1593.5,433.7 1596.0,433.5 1598.5,434.8 1601.0,434.3 1603.5,435.8 1606.0,437.1 1608.5,437.3 1611.0,437.5 1613.5,437.0 1616.0,437.6 1618.5,437.5 1621.0,438.9 1623.5,438.7 1626.0,439.4 1628.5,438.8 1631.0,438.8 1633.5,440.3 1636.0,440.9 1638.5,440.9 1641.0,441.0 1643.5,441.2 1646.0,441.2 1648.5,440.4 1651.0,441.1 1653.5,441.0 1656.0,440.5 1658.5,440.7 1661.0,441.3 1663.5,441.5 1666.0,442.5 1668.5,443.2 1671.0,442.3 1673.5,443.3 1676.0,443.5 1678.5,443.6 1681.0,442.5 1683.5,442.3 1686.0,442.4 1688.5,442.4 1691.0,442.6 1693.5,443.5 1696.0,444.1 1698.5,444.1 1701.0,443.5 1703.5,443.9 1706.0,444.2 1708.5,442.9 1711.0,444.1 1713.5,444.6 1716.0,444.5 1718.5,444.4 1721.0,444.0 1723.5,443.4 1726.0,444.7 1728.5,443.9 1731.0,444.8 1733.5,445.2 1736.0,444.0 1738.5,444.1 1741.0,445.2 1743.5,444.7 1746.0,443.6 1748.5,443.6 1751.0,443.6 1753.5,445.1 1756.0,445.0 1758.5,443.7 1761.0,445.0 1763.5,445.4 1766.0,444.7 1768.5,444.1 1771.0,444.5 1773.5,443.7 1776.0,443.5 1778.5,445.4 1781.0,444.8 1783.5,444.6 1786.0,445.4 1788.5,444.4 1791.0,445.3 1793.5,445.2 1796.0,444.0 1798.5,444.1 1801.0,444.2 1803.5,444.1 1806.0,444.8 1808.5,444.1 1811.0,444.4 1813.5,443.8 1816.0,445.4 1818.5,444.3 1821.0,444.5 1823.5,444.7 1826.0,445.3 1828.5,444.4 1831.0,445.4 1833.5,444.5 1836.0,444.6 1838.5,444.6 1841.0,443.5 1843.5,444.4 1846.0,443.9 1848.5,443.5 1851.0,445.1 1853.5,443.8 1856.0,444.4 1858.5,444.9 1861.0,444.6 1863.5,444.1 1866.0,444.5 1868.5,444.5 1871.0,445.0 1873.5,443.6 1876.0,444.5 1878.5,443.9 1881.0,444.0 1883.5,444.9 1886.0,444.4 1888.5,444.5 1891.0,444.9 1893.5,445.2 1896.0,444.3 1898.5,444.6 1901.0,444.4 1903.5,444.4 1906.0,444.7 1908.5,444.2 1911.0,444.4 1913.5,444.3 1916.0,445.2 1918.5,444.7 1921.0,445.1 1923.5,445.2 1926.0,443.8 1928.5,444.4 1931.0,445.2 1933.5,445.0 1936.0,443.6 1938.5,443.5 1941.0,444.1 1943.5,443.4 1946.0,443.7 1948.5,443.4 1951.0,444.6 1953.5,444.8 1956.0,445.0 1958.5,443.5 1961.0,444.6 1963.5,444.5 1966.0,443.5" fill="none" stroke="#2f3b8c" stroke-width="2.9" stroke-linejoin="round" stroke-linecap="round" />
</g>
<g filter="url(#bld)">
<rect x="707.8" y="640.5" width="635.5" height="337.4" fill="#fff" stroke="none" stroke-width="0" />
<polyline points="708.8,972.0 729.0,972.0" fill="none" stroke="#7e82c0" stroke-width="1.6" stroke-linejoin="round" stroke-linecap="round" />
<polyline points="708.8,976.3 813.5,976.3" fill="none" stroke="#7e82c0" stroke-width="1.6" stroke-linejoin="round" stroke-linecap="round" />
<rect x="728.0" y="926.5" width="3.2" height="50.5" fill="#dfe0f6" stroke="none" stroke-width="0" />
<polyline points="727.9,977.0 728.0,927.0 728.8,925.6 730.4,925.6 731.2,927.0 731.4,960.0 732.4,965.5 734.6,968.6 737.1,970.6" fill="none" stroke="#7e82c0" stroke-width="1.5" stroke-linejoin="round" stroke-linecap="round" />
<line x1="729.9" y1="948.0" x2="730.1" y2="977.0" stroke="#7679c6" stroke-width="2.0" />
<line x1="728.2" y1="964.0" x2="728.2" y2="977.0" stroke="#6e71c0" stroke-width="2.0" />
<rect x="737.0" y="926.5" width="3.2" height="50.5" fill="#dfe0f6" stroke="none" stroke-width="0" />
<polyline points="736.9,977.0 737.0,927.0 737.8,925.6 739.4,925.6 740.2,927.0 740.4,960.0 741.4,965.5 743.6,968.6 746.1,970.6" fill="none" stroke="#7e82c0" stroke-width="1.5" stroke-linejoin="round" stroke-linecap="round" />
<line x1="738.9" y1="953.0" x2="739.1" y2="977.0" stroke="#7679c6" stroke-width="2.0" />
<line x1="737.2" y1="964.0" x2="737.2" y2="977.0" stroke="#6e71c0" stroke-width="2.0" />
<rect x="745.8" y="926.5" width="3.2" height="50.5" fill="#dfe0f6" stroke="none" stroke-width="0" />
<polyline points="745.7,977.0 745.8,927.0 746.6,925.6 748.2,925.6 749.0,927.0 749.2,960.0 750.2,965.5 752.4,968.6 754.9,970.6" fill="none" stroke="#7e82c0" stroke-width="1.5" stroke-linejoin="round" stroke-linecap="round" />
<line x1="747.7" y1="948.0" x2="747.9" y2="977.0" stroke="#7679c6" stroke-width="2.0" />
<line x1="746.0" y1="964.0" x2="746.0" y2="977.0" stroke="#6e71c0" stroke-width="2.0" />
<rect x="755.0" y="926.5" width="3.2" height="50.5" fill="#dfe0f6" stroke="none" stroke-width="0" />
<polyline points="754.9,977.0 755.0,927.0 755.8,925.6 757.4,925.6 758.2,927.0 758.4,960.0 759.4,965.5 761.6,968.6 764.1,970.6" fill="none" stroke="#7e82c0" stroke-width="1.5" stroke-linejoin="round" stroke-linecap="round" />
<line x1="756.9" y1="953.0" x2="757.1" y2="977.0" stroke="#7679c6" stroke-width="2.0" />
<line x1="755.2" y1="964.0" x2="755.2" y2="977.0" stroke="#6e71c0" stroke-width="2.0" />
<rect x="764.4" y="926.5" width="3.2" height="50.5" fill="#dfe0f6" stroke="none" stroke-width="0" />
<polyline points="764.3,977.0 764.4,927.0 765.2,925.6 766.8,925.6 767.6,927.0 767.8,960.0 768.8,965.5 771.0,968.6 773.5,970.6" fill="none" stroke="#7e82c0" stroke-width="1.5" stroke-linejoin="round" stroke-linecap="round" />
<line x1="766.3" y1="948.0" x2="766.5" y2="977.0" stroke="#7679c6" stroke-width="2.0" />
<line x1="764.6" y1="964.0" x2="764.6" y2="977.0" stroke="#6e71c0" stroke-width="2.0" />
<polyline points="767.9,955.0 768.8,961.8 771.0,964.2 775.0,966.0 780.0,967.2 790.0,967.8 800.0,968.3 812.5,968.6" fill="none" stroke="#7e82c0" stroke-width="2.2" stroke-linejoin="round" stroke-linecap="round" />
<polyline points="813.5,975.6 834.5,975.6" fill="none" stroke="#7e82c0" stroke-width="2.2" stroke-linejoin="round" stroke-linecap="round" />
<polygon points="834.2,977.0 834.2,929.0 845.0,926.5 860.0,925.5 878.2,925.5 878.2,977.0" fill="#c4c6ee" stroke="none" stroke-width="0" stroke-linejoin="round" />
<line x1="834.8" y1="928.6" x2="834.8" y2="977.0" stroke="#9a9dd8" stroke-width="1.5" />
<line x1="837.8" y1="928.4" x2="837.8" y2="977.0" stroke="#9a9dd8" stroke-width="1.5" />
<line x1="840.9" y1="928.2" x2="840.9" y2="977.0" stroke="#9a9dd8" stroke-width="1.5" />
<line x1="843.9" y1="927.9" x2="843.9" y2="977.0" stroke="#9a9dd8" stroke-width="1.5" />
<line x1="847.0" y1="927.7" x2="847.0" y2="977.0" stroke="#9a9dd8" stroke-width="1.5" />
<line x1="850.0" y1="927.5" x2="850.0" y2="977.0" stroke="#9a9dd8" stroke-width="1.5" />
<line x1="853.1" y1="927.3" x2="853.1" y2="977.0" stroke="#9a9dd8" stroke-width="1.5" />
<line x1="856.1" y1="927.1" x2="856.1" y2="977.0" stroke="#9a9dd8" stroke-width="1.5" />
<line x1="859.2" y1="926.9" x2="859.2" y2="977.0" stroke="#9a9dd8" stroke-width="1.5" />
<line x1="862.2" y1="926.7" x2="862.2" y2="977.0" stroke="#9a9dd8" stroke-width="1.5" />
<line x1="865.3" y1="926.5" x2="865.3" y2="977.0" stroke="#9a9dd8" stroke-width="1.5" />
<line x1="868.3" y1="926.2" x2="868.3" y2="977.0" stroke="#9a9dd8" stroke-width="1.5" />
<line x1="871.4" y1="926.0" x2="871.4" y2="977.0" stroke="#9a9dd8" stroke-width="1.5" />
<line x1="874.4" y1="925.8" x2="874.4" y2="977.0" stroke="#9a9dd8" stroke-width="1.5" />
<line x1="877.5" y1="925.6" x2="877.5" y2="977.0" stroke="#9a9dd8" stroke-width="1.5" />
<polygon points="834.5,977.0 836.0,962.0 838.5,956.0 840.0,962.0 842.0,930.0 846.0,930.0 847.5,950.0 851.0,946.0 853.0,952.0 858.0,955.0 864.0,957.0 870.0,958.5 873.0,954.0 875.0,940.0 877.5,938.0 878.0,977.0" fill="#8386d0" stroke="none" stroke-width="0" stroke-linejoin="round" opacity="0.75"/>
<rect x="838.5" y="963.0" width="3.2" height="14.0" fill="#c4c6ee" stroke="none" stroke-width="0" opacity="0.8"/>
<rect x="845.5" y="963.0" width="3.2" height="14.0" fill="#c4c6ee" stroke="none" stroke-width="0" opacity="0.8"/>
<rect x="853.5" y="963.0" width="3.2" height="14.0" fill="#c4c6ee" stroke="none" stroke-width="0" opacity="0.8"/>
<rect x="862.0" y="963.0" width="3.2" height="14.0" fill="#c4c6ee" stroke="none" stroke-width="0" opacity="0.8"/>
<rect x="868.5" y="963.0" width="3.2" height="14.0" fill="#c4c6ee" stroke="none" stroke-width="0" opacity="0.8"/>
<polyline points="878.3,930.0 879.0,950.0 880.5,958.0 883.0,961.5 887.0,963.5 895.0,965.0 905.0,966.2 918.0,967.0" fill="none" stroke="#7e82c0" stroke-width="2.2" stroke-linejoin="round" stroke-linecap="round" />
<polyline points="919.0,973.6 940.5,973.6" fill="none" stroke="#7e82c0" stroke-width="2.2" stroke-linejoin="round" stroke-linecap="round" />
<polygon points="940.4,931.5 941.5,927.5 944.0,924.8 955.0,920.5 965.0,916.5 975.0,912.3 986.6,907.5 986.6,977.0 940.4,977.0" fill="#9b9ddb" stroke="#9b9ddb" stroke-width="1" stroke-linejoin="round" />
<polygon points="940.6,977.0 940.6,961.0 943.0,957.2 948.0,955.8 953.0,955.5 954.3,958.0 954.3,977.0" fill="#00007f" stroke="none" stroke-width="0" stroke-linejoin="round" />
<polygon points="953.5,954.5 956.2,948.0 958.0,938.0 960.5,927.0 962.8,919.4 965.0,919.0 968.0,924.5 972.5,931.0 978.0,936.0 983.0,939.0 986.8,940.5 986.8,977.0 978.6,977.0 975.0,966.0 972.5,958.0 970.0,953.0 966.0,953.5 961.5,955.5 957.0,958.0 954.5,959.0" fill="#00007f" stroke="none" stroke-width="0" stroke-linejoin="round" />
<polyline points="986.8,941.5 988.5,947.5 991.0,951.0 995.0,953.6 1002.0,955.5 1010.3,957.0 1018.0,958.0 1024.5,958.8" fill="none" stroke="#7e82c0" stroke-width="2.2" stroke-linejoin="round" stroke-linecap="round" />
<polyline points="1025.0,974.4 1046.4,974.4" fill="none" stroke="#7e82c0" stroke-width="2.2" stroke-linejoin="round" stroke-linecap="round" />
<polygon points="1046.4,933.0 1047.5,926.0 1050.0,921.5 1054.7,918.0 1065.0,912.0 1075.0,905.0 1084.0,896.0 1090.0,890.0 1092.6,888.3 1092.8,977.0 1046.4,977.0" fill="#00007f" stroke="#00007f" stroke-width="1" stroke-linejoin="round" />
<polygon points="1046.6,932.0 1048.0,925.5 1051.0,921.5 1055.0,918.5 1059.0,916.5 1059.0,932.0 1054.0,938.0 1050.0,942.0 1046.6,946.0" fill="#8e91d7" stroke="none" stroke-width="0" stroke-linejoin="round" />
<rect x="1050.8" y="925.0" width="3.0" height="17.0" fill="#8e91d7" stroke="none" stroke-width="0" />
<rect x="1060.5" y="916.5" width="6.0" height="24.0" fill="#8e91d7" stroke="none" stroke-width="0" />
<rect x="1066.5" y="912.5" width="3.0" height="10.0" fill="#8e91d7" stroke="none" stroke-width="0" />
<rect x="1071.5" y="908.0" width="3.0" height="9.0" fill="#8e91d7" stroke="none" stroke-width="0" />
<rect x="1077.5" y="904.0" width="5.0" height="24.0" fill="#8e91d7" stroke="none" stroke-width="0" />
<rect x="1083.0" y="899.0" width="3.0" height="10.0" fill="#8e91d7" stroke="none" stroke-width="0" />
<rect x="1088.5" y="891.0" width="2.8" height="9.0" fill="#8e91d7" stroke="none" stroke-width="0" />
<rect x="1047.5" y="960.0" width="5.0" height="17.0" fill="#8e91d7" stroke="none" stroke-width="0" />
<rect x="1060.5" y="955.0" width="8.0" height="22.0" fill="#8e91d7" stroke="none" stroke-width="0" />
<rect x="1072.5" y="964.0" width="4.5" height="13.0" fill="#8e91d7" stroke="none" stroke-width="0" />
<rect x="1077.0" y="951.5" width="8.0" height="25.5" fill="#8e91d7" stroke="none" stroke-width="0" />
<rect x="1088.5" y="962.0" width="2.6" height="14.0" fill="#8e91d7" stroke="none" stroke-width="0" />
<polyline points="1092.8,890.0 1093.4,925.0 1094.5,935.0 1097.0,940.5 1101.0,944.0 1108.0,946.8 1116.0,948.8 1124.0,950.5 1130.3,951.8" fill="none" stroke="#7e82c0" stroke-width="2.2" stroke-linejoin="round" stroke-linecap="round" />
<polyline points="1130.8,974.4 1152.5,974.4" fill="none" stroke="#7e82c0" stroke-width="2.2" stroke-linejoin="round" stroke-linecap="round" />
<polygon points="1152.4,929.0 1154.0,922.0 1157.0,917.0 1162.0,912.5 1170.0,905.5 1177.0,898.5 1183.0,889.0 1189.0,877.0 1194.0,866.0 1198.0,858.0 1199.4,855.5 1200.0,942.0 1196.0,950.0 1192.0,957.0 1188.0,963.5 1183.0,970.0 1178.0,975.5 1176.0,977.0 1152.4,977.0" fill="#00007f" stroke="#00007f" stroke-width="1" stroke-linejoin="round" />
<rect x="1177.5" y="902.0" width="2.2" height="10.0" fill="#8c8fd6" stroke="none" stroke-width="0" opacity="0.7"/>
<rect x="1190.0" y="880.0" width="2.2" height="14.0" fill="#8c8fd6" stroke="none" stroke-width="0" opacity="0.7"/>
<rect x="1195.0" y="868.0" width="2.0" height="12.0" fill="#8c8fd6" stroke="none" stroke-width="0" opacity="0.7"/>
<rect x="1172.0" y="968.0" width="2.5" height="8.0" fill="#8c8fd6" stroke="none" stroke-width="0" opacity="0.7"/>
<rect x="1188.5" y="946.0" width="2.0" height="10.0" fill="#8c8fd6" stroke="none" stroke-width="0" opacity="0.7"/>
<polyline points="1199.8,857.0 1200.3,905.0 1201.0,918.5 1203.0,925.0 1206.0,929.5 1210.0,932.5 1216.0,935.2 1225.0,938.2 1236.6,942.0" fill="none" stroke="#7e82c0" stroke-width="2.2" stroke-linejoin="round" stroke-linecap="round" />
<polyline points="1237.1,976.0 1259.2,976.0" fill="none" stroke="#7e82c0" stroke-width="2.2" stroke-linejoin="round" stroke-linecap="round" />
<polygon points="1259.2,977.0 1259.2,940.0 1260.0,925.0 1263.7,906.6 1268.0,892.0 1272.7,879.7 1278.0,852.0 1284.6,814.0 1290.5,777.0 1296.6,739.4 1301.0,705.0 1304.0,680.0 1305.3,672.5 1307.0,690.0 1307.2,754.3 1303.5,784.0 1299.6,814.0 1295.0,844.0 1290.6,873.7 1284.5,905.0 1278.7,933.5 1274.0,957.0 1269.7,977.0" fill="#00007f" stroke="#00007f" stroke-width="1" stroke-linejoin="round" />
<polyline points="1305.4,672.5 1306.0,720.0 1306.4,787.0 1307.2,812.0 1308.5,829.0 1310.5,844.0 1313.0,855.8 1317.5,867.0 1323.4,876.7 1332.0,884.0 1342.5,890.0" fill="none" stroke="#7e82c0" stroke-width="2.2" stroke-linejoin="round" stroke-linecap="round" />
<polyline points="1304.6,676.0 1305.4,672.5 1306.2,700.0" fill="none" stroke="#5558b5" stroke-width="1.6" stroke-linejoin="round" stroke-linecap="round" />
<rect x="707.8" y="640.5" width="635.5" height="337.4" fill="none" stroke="#7a7a7a" stroke-width="2.6" />
<line x1="813.5" y1="640.5" x2="813.5" y2="982.9" stroke="#7a7a7a" stroke-width="2.6" />
<line x1="919.0" y1="640.5" x2="919.0" y2="982.9" stroke="#7a7a7a" stroke-width="2.6" />
<line x1="1025.0" y1="640.5" x2="1025.0" y2="982.9" stroke="#7a7a7a" stroke-width="2.6" />
<line x1="1130.8" y1="640.5" x2="1130.8" y2="982.9" stroke="#7a7a7a" stroke-width="2.6" />
<line x1="1237.1" y1="640.5" x2="1237.1" y2="982.9" stroke="#7a7a7a" stroke-width="2.6" />
<line x1="707.8" y1="977.9" x2="707.8" y2="982.9" stroke="#7a7a7a" stroke-width="2.4" />
<line x1="1343.3" y1="977.9" x2="1343.3" y2="982.9" stroke="#7a7a7a" stroke-width="2.4" />
<line x1="707.8" y1="663.2" x2="715.6" y2="663.2" stroke="#7a7a7a" stroke-width="2.0" />
<line x1="707.8" y1="709.7" x2="715.6" y2="709.7" stroke="#7a7a7a" stroke-width="2.0" />
<line x1="707.8" y1="756.2" x2="715.6" y2="756.2" stroke="#7a7a7a" stroke-width="2.0" />
<line x1="707.8" y1="802.7" x2="715.6" y2="802.7" stroke="#7a7a7a" stroke-width="2.0" />
<line x1="707.8" y1="849.2" x2="715.6" y2="849.2" stroke="#7a7a7a" stroke-width="2.0" />
<line x1="707.8" y1="895.7" x2="715.6" y2="895.7" stroke="#7a7a7a" stroke-width="2.0" />
<line x1="707.8" y1="942.2" x2="715.6" y2="942.2" stroke="#7a7a7a" stroke-width="2.0" />
<line x1="707.8" y1="686.5" x2="712.0" y2="686.5" stroke="#7a7a7a" stroke-width="1.9" />
<line x1="707.8" y1="733.0" x2="712.0" y2="733.0" stroke="#7a7a7a" stroke-width="1.9" />
<line x1="707.8" y1="779.5" x2="712.0" y2="779.5" stroke="#7a7a7a" stroke-width="1.9" />
<line x1="707.8" y1="826.0" x2="712.0" y2="826.0" stroke="#7a7a7a" stroke-width="1.9" />
<line x1="707.8" y1="872.5" x2="712.0" y2="872.5" stroke="#7a7a7a" stroke-width="1.9" />
<line x1="707.8" y1="919.0" x2="712.0" y2="919.0" stroke="#7a7a7a" stroke-width="1.9" />
<line x1="707.8" y1="965.5" x2="712.0" y2="965.5" stroke="#7a7a7a" stroke-width="1.9" />
<text x="699.0" y="671.0" font-size="29.5" font-weight="bold" fill="#0c0c0c" text-anchor="end" textLength="72.0" lengthAdjust="spacingAndGlyphs" stroke="#0c0c0c" stroke-width="0.5" stroke-linejoin="round">-700n</text>
<text x="699.0" y="717.5" font-size="29.5" font-weight="bold" fill="#0c0c0c" text-anchor="end" textLength="72.0" lengthAdjust="spacingAndGlyphs" stroke="#0c0c0c" stroke-width="0.5" stroke-linejoin="round">-600n</text>
<text x="699.0" y="764.0" font-size="29.5" font-weight="bold" fill="#0c0c0c" text-anchor="end" textLength="72.0" lengthAdjust="spacingAndGlyphs" stroke="#0c0c0c" stroke-width="0.5" stroke-linejoin="round">-500n</text>
<text x="699.0" y="810.5" font-size="29.5" font-weight="bold" fill="#0c0c0c" text-anchor="end" textLength="72.0" lengthAdjust="spacingAndGlyphs" stroke="#0c0c0c" stroke-width="0.5" stroke-linejoin="round">-400n</text>
<text x="699.0" y="857.0" font-size="29.5" font-weight="bold" fill="#0c0c0c" text-anchor="end" textLength="72.0" lengthAdjust="spacingAndGlyphs" stroke="#0c0c0c" stroke-width="0.5" stroke-linejoin="round">-300n</text>
<text x="699.0" y="903.5" font-size="29.5" font-weight="bold" fill="#0c0c0c" text-anchor="end" textLength="72.0" lengthAdjust="spacingAndGlyphs" stroke="#0c0c0c" stroke-width="0.5" stroke-linejoin="round">-200n</text>
<text x="699.0" y="950.0" font-size="29.5" font-weight="bold" fill="#0c0c0c" text-anchor="end" textLength="72.0" lengthAdjust="spacingAndGlyphs" stroke="#0c0c0c" stroke-width="0.5" stroke-linejoin="round">-100n</text>
<text x="763.2" y="670.0" font-size="24.5" fill="#1a1a1a" text-anchor="middle" textLength="69.5" lengthAdjust="spacingAndGlyphs" stroke="#1a1a1a" stroke-width="0.9" stroke-linejoin="round">0.73Hz</text>
<text x="858.9" y="670.2" font-size="24.5" fill="#1a1a1a" text-anchor="middle" textLength="56.0" lengthAdjust="spacingAndGlyphs" stroke="#1a1a1a" stroke-width="0.9" stroke-linejoin="round">1.3Hz</text>
<text x="970.5" y="671.0" font-size="24.5" fill="#1a1a1a" text-anchor="middle" textLength="57.0" lengthAdjust="spacingAndGlyphs" stroke="#1a1a1a" stroke-width="0.9" stroke-linejoin="round">2.5Hz</text>
<text x="1080.0" y="672.0" font-size="24.5" fill="#1a1a1a" text-anchor="middle" textLength="38.5" lengthAdjust="spacingAndGlyphs" stroke="#1a1a1a" stroke-width="0.9" stroke-linejoin="round">3Hz</text>
<text x="1181.4" y="671.2" font-size="24.5" fill="#1a1a1a" text-anchor="middle" textLength="38.5" lengthAdjust="spacingAndGlyphs" stroke="#1a1a1a" stroke-width="0.9" stroke-linejoin="round">4Hz</text>
<text x="1286.3" y="672.4" font-size="24.5" fill="#1a1a1a" text-anchor="middle" textLength="38.5" lengthAdjust="spacingAndGlyphs" stroke="#1a1a1a" stroke-width="0.9" stroke-linejoin="round">6Hz</text>
<line x1="760.2" y1="977.9" x2="760.2" y2="986.9" stroke="#7a7a7a" stroke-width="2.4" />
<text x="760.4" y="1013.6" font-size="27.5" font-weight="bold" fill="#0c0c0c" text-anchor="middle" textLength="30.2" lengthAdjust="spacingAndGlyphs" stroke="#0c0c0c" stroke-width="0.5" stroke-linejoin="round">40</text>
<line x1="865.5" y1="977.9" x2="865.5" y2="986.9" stroke="#7a7a7a" stroke-width="2.4" />
<text x="865.7" y="1013.6" font-size="27.5" font-weight="bold" fill="#0c0c0c" text-anchor="middle" textLength="30.2" lengthAdjust="spacingAndGlyphs" stroke="#0c0c0c" stroke-width="0.5" stroke-linejoin="round">40</text>
<line x1="971.0" y1="977.9" x2="971.0" y2="986.9" stroke="#7a7a7a" stroke-width="2.4" />
<text x="971.2" y="1013.6" font-size="27.5" font-weight="bold" fill="#0c0c0c" text-anchor="middle" textLength="30.2" lengthAdjust="spacingAndGlyphs" stroke="#0c0c0c" stroke-width="0.5" stroke-linejoin="round">40</text>
<line x1="1077.0" y1="977.9" x2="1077.0" y2="986.9" stroke="#7a7a7a" stroke-width="2.4" />
<text x="1077.2" y="1013.6" font-size="27.5" font-weight="bold" fill="#0c0c0c" text-anchor="middle" textLength="30.2" lengthAdjust="spacingAndGlyphs" stroke="#0c0c0c" stroke-width="0.5" stroke-linejoin="round">40</text>
<line x1="1182.8" y1="977.9" x2="1182.8" y2="986.9" stroke="#7a7a7a" stroke-width="2.4" />
<text x="1183.0" y="1013.6" font-size="27.5" font-weight="bold" fill="#0c0c0c" text-anchor="middle" textLength="30.2" lengthAdjust="spacingAndGlyphs" stroke="#0c0c0c" stroke-width="0.5" stroke-linejoin="round">40</text>
<line x1="1289.1" y1="977.9" x2="1289.1" y2="986.9" stroke="#7a7a7a" stroke-width="2.4" />
<text x="1289.3" y="1013.6" font-size="27.5" font-weight="bold" fill="#0c0c0c" text-anchor="middle" textLength="30.2" lengthAdjust="spacingAndGlyphs" stroke="#0c0c0c" stroke-width="0.5" stroke-linejoin="round">40</text>
<text x="968.0" y="1054.0" font-size="32" font-weight="bold" fill="#0c0c0c" textLength="120.0" lengthAdjust="spacingAndGlyphs" stroke="#0c0c0c" stroke-width="0.5" stroke-linejoin="round">Time (s)</text>
<text x="610.4" y="1002.2" font-size="30.5" font-weight="bold" fill="#0c0c0c" textLength="388.4" lengthAdjust="spacing" transform="rotate(-90 610.4 1002.2)" stroke="#0c0c0c" stroke-width="0.2" stroke-linejoin="round">Postsynaptic current (A)</text>
</g>
<g filter="url(#ble)">
<rect x="709.0" y="1085.2" width="637.6" height="368.6" fill="#fff" stroke="none" stroke-width="0" />
<line x1="788.7" y1="1085.2" x2="788.7" y2="1100.3" stroke="#6e6e6e" stroke-width="2.3" />
<line x1="788.7" y1="1220.5" x2="788.7" y2="1458.8" stroke="#6e6e6e" stroke-width="2.3" />
<line x1="868.4" y1="1085.2" x2="868.4" y2="1100.3" stroke="#6e6e6e" stroke-width="2.3" />
<line x1="868.4" y1="1220.5" x2="868.4" y2="1458.8" stroke="#6e6e6e" stroke-width="2.3" />
<line x1="948.1" y1="1085.2" x2="948.1" y2="1118.5" stroke="#6e6e6e" stroke-width="2.3" />
<line x1="948.1" y1="1169.3" x2="948.1" y2="1458.8" stroke="#6e6e6e" stroke-width="2.3" />
<line x1="1027.8" y1="1085.2" x2="1027.8" y2="1118.5" stroke="#6e6e6e" stroke-width="2.3" />
<line x1="1027.8" y1="1169.3" x2="1027.8" y2="1458.8" stroke="#6e6e6e" stroke-width="2.3" />
<line x1="1107.5" y1="1085.2" x2="1107.5" y2="1118.5" stroke="#6e6e6e" stroke-width="2.3" />
<line x1="1107.5" y1="1169.3" x2="1107.5" y2="1458.8" stroke="#6e6e6e" stroke-width="2.3" />
<line x1="1187.2" y1="1085.2" x2="1187.2" y2="1458.8" stroke="#6e6e6e" stroke-width="2.3" />
<line x1="1266.9" y1="1085.2" x2="1266.9" y2="1458.8" stroke="#6e6e6e" stroke-width="2.3" />
<polyline points="710.0,1440.3 744.0,1440.3" fill="none" stroke="#7d80c6" stroke-width="2.4" stroke-linejoin="round" stroke-linecap="round" />
<polyline points="743.7,1453.8 743.8,1366.0 744.9,1366.0 745.2,1424.9 747.0,1432.0 748.8,1434.2 750.6,1435.1 752.4,1435.7 754.2,1436.1 756.0,1436.4 757.8,1436.7 759.6,1437.0 761.4,1437.2 763.2,1437.4 765.0,1437.5 766.8,1437.6 768.5,1437.7 770.3,1437.8 772.1,1437.9 773.9,1437.9 775.7,1438.0 777.5,1438.0 779.3,1438.1 781.1,1438.1 782.9,1438.1 784.7,1438.2 786.5,1438.2 788.3,1438.2" fill="none" stroke="#767ab9" stroke-width="2.5" stroke-linejoin="round" stroke-linecap="round" />
<line x1="744.3" y1="1402.5" x2="744.5" y2="1430.9" stroke="#6367ba" stroke-width="2.2" />
<line x1="744.0" y1="1441.0" x2="744.0" y2="1453.8" stroke="#6367ba" stroke-width="1.6" />
<polyline points="789.7,1440.3 823.7,1440.3" fill="none" stroke="#7d80c6" stroke-width="2.4" stroke-linejoin="round" stroke-linecap="round" />
<polyline points="823.4,1453.8 823.5,1335.6 824.6,1335.6 824.9,1414.6 826.7,1425.6 828.5,1429.0 830.3,1430.5 832.1,1431.4 833.9,1432.0 835.7,1432.6 837.5,1433.0 839.3,1433.4 841.1,1433.7 842.9,1434.0 844.7,1434.2 846.5,1434.4 848.2,1434.6 850.0,1434.7 851.8,1434.8 853.6,1434.9 855.4,1435.0 857.2,1435.1 859.0,1435.1 860.8,1435.2 862.6,1435.2 864.4,1435.2 866.2,1435.3 868.0,1435.3" fill="none" stroke="#767ab9" stroke-width="2.5" stroke-linejoin="round" stroke-linecap="round" />
<line x1="824.0" y1="1384.6" x2="824.2" y2="1420.6" stroke="#6367ba" stroke-width="2.2" />
<line x1="823.7" y1="1441.0" x2="823.7" y2="1453.8" stroke="#6367ba" stroke-width="2.0" />
<polyline points="869.4,1440.3 903.4,1440.3" fill="none" stroke="#7d80c6" stroke-width="2.4" stroke-linejoin="round" stroke-linecap="round" />
<polyline points="903.1,1453.8 903.2,1308.8 904.3,1308.8 904.6,1402.7 906.4,1418.4 908.2,1423.2 910.0,1425.3 911.8,1426.6 913.6,1427.5 915.4,1428.3 917.2,1429.0 919.0,1429.5 920.8,1429.9 922.6,1430.3 924.4,1430.6 926.1,1430.9 927.9,1431.1 929.7,1431.3 931.5,1431.5 933.3,1431.6 935.1,1431.7 936.9,1431.8 938.7,1431.9 940.5,1432.0 942.3,1432.1 944.1,1432.1 945.9,1432.2 947.7,1432.2" fill="none" stroke="#767ab9" stroke-width="2.5" stroke-linejoin="round" stroke-linecap="round" />
<line x1="903.7" y1="1367.0" x2="903.9" y2="1408.7" stroke="#6367ba" stroke-width="2.2" />
<line x1="903.4" y1="1441.0" x2="903.4" y2="1453.8" stroke="#6367ba" stroke-width="2.0" />
<polyline points="949.1,1440.3 983.1,1440.3" fill="none" stroke="#7d80c6" stroke-width="2.4" stroke-linejoin="round" stroke-linecap="round" />
<polyline points="982.8,1453.8 982.9,1273.8 984.0,1273.8 984.3,1384.0 986.1,1408.1 987.9,1415.6 989.7,1418.8 991.5,1420.8 993.3,1422.2 995.1,1423.4 996.9,1424.4 998.7,1425.2 1000.5,1425.9 1002.3,1426.5 1004.1,1427.0 1005.9,1427.4 1007.6,1427.8 1009.4,1428.1 1011.2,1428.3 1013.0,1428.5 1014.8,1428.7 1016.6,1428.9 1018.4,1429.0 1020.2,1429.1 1022.0,1429.2 1023.8,1429.3 1025.6,1429.3 1027.4,1429.4" fill="none" stroke="#767ab9" stroke-width="2.5" stroke-linejoin="round" stroke-linecap="round" />
<line x1="983.4" y1="1342.1" x2="983.6" y2="1390.0" stroke="#6367ba" stroke-width="2.2" />
<line x1="983.1" y1="1441.0" x2="983.1" y2="1453.8" stroke="#6367ba" stroke-width="1.6" />
<polyline points="1028.8,1440.3 1062.8,1440.3" fill="none" stroke="#7d80c6" stroke-width="2.4" stroke-linejoin="round" stroke-linecap="round" />
<polyline points="1062.5,1453.8 1062.6,1246.0 1063.7,1246.0 1064.0,1372.0 1065.8,1401.3 1067.6,1410.4 1069.4,1414.3 1071.2,1416.7 1073.0,1418.5 1074.8,1419.9 1076.6,1421.1 1078.4,1422.1 1080.2,1423.0 1082.0,1423.7 1083.8,1424.3 1085.5,1424.8 1087.3,1425.2 1089.1,1425.6 1090.9,1425.9 1092.7,1426.1 1094.5,1426.4 1096.3,1426.5 1098.1,1426.7 1099.9,1426.8 1101.7,1426.9 1103.5,1427.0 1105.3,1427.1 1107.1,1427.2" fill="none" stroke="#767ab9" stroke-width="2.5" stroke-linejoin="round" stroke-linecap="round" />
<line x1="1063.1" y1="1324.1" x2="1063.3" y2="1378.0" stroke="#4549aa" stroke-width="2.2" />
<line x1="1062.8" y1="1441.0" x2="1062.8" y2="1453.8" stroke="#4549aa" stroke-width="1.6" />
<polyline points="1108.5,1440.3 1142.5,1440.3" fill="none" stroke="#7d80c6" stroke-width="2.4" stroke-linejoin="round" stroke-linecap="round" />
<polyline points="1142.2,1453.8 1142.3,1242.1 1143.4,1242.1 1143.7,1368.0 1145.5,1398.7 1147.3,1408.2 1149.1,1412.3 1150.9,1414.8 1152.7,1416.7 1154.5,1418.2 1156.3,1419.4 1158.1,1420.5 1159.9,1421.4 1161.7,1422.1 1163.5,1422.7 1165.2,1423.3 1167.0,1423.7 1168.8,1424.1 1170.6,1424.4 1172.4,1424.7 1174.2,1424.9 1176.0,1425.1 1177.8,1425.3 1179.6,1425.4 1181.4,1425.5 1183.2,1425.6 1185.0,1425.7 1186.8,1425.8" fill="none" stroke="#767ab9" stroke-width="2.5" stroke-linejoin="round" stroke-linecap="round" />
<line x1="1142.8" y1="1320.2" x2="1143.0" y2="1374.0" stroke="#4549aa" stroke-width="2.2" />
<line x1="1142.5" y1="1441.0" x2="1142.5" y2="1453.8" stroke="#4549aa" stroke-width="1.6" />
<polyline points="1188.2,1440.3 1222.2,1440.3" fill="none" stroke="#7d80c6" stroke-width="2.4" stroke-linejoin="round" stroke-linecap="round" />
<polyline points="1221.9,1453.8 1222.0,1190.0 1223.1,1190.0 1223.4,1340.0 1225.2,1379.3 1227.0,1391.5 1228.8,1396.8 1230.6,1399.9 1232.4,1402.3 1234.2,1404.3 1236.0,1405.9 1237.8,1407.2 1239.6,1408.3 1241.4,1409.3 1243.2,1410.1 1244.9,1410.8 1246.7,1411.3 1248.5,1411.8 1250.3,1412.2 1252.1,1412.6 1253.9,1412.9 1255.7,1413.1 1257.5,1413.3 1259.3,1413.5 1261.1,1413.7 1262.9,1413.8 1264.7,1413.9 1266.5,1414.0" fill="none" stroke="#767ab9" stroke-width="2.5" stroke-linejoin="round" stroke-linecap="round" />
<line x1="1222.5" y1="1238.0" x2="1222.7" y2="1346.0" stroke="#4549aa" stroke-width="2.2" />
<line x1="1222.2" y1="1441.0" x2="1222.2" y2="1453.8" stroke="#4549aa" stroke-width="2.0" />
<polyline points="1267.9,1440.3 1301.9,1440.3" fill="none" stroke="#7d80c6" stroke-width="2.4" stroke-linejoin="round" stroke-linecap="round" />
<polyline points="1301.6,1453.8 1301.7,1149.4 1302.8,1149.4 1303.1,1318.0 1304.9,1364.3 1306.7,1378.7 1308.5,1384.9 1310.3,1388.6 1312.1,1391.4 1313.9,1393.7 1315.7,1395.6 1317.5,1397.2 1319.3,1398.5 1321.1,1399.6 1322.9,1400.6 1324.6,1401.4 1326.4,1402.1 1328.2,1402.6 1330.0,1403.1 1331.8,1403.5 1333.6,1403.9 1335.4,1404.2 1337.2,1404.4 1339.0,1404.6 1340.8,1404.8 1342.6,1405.0 1344.4,1405.1 1346.2,1405.2" fill="none" stroke="#767ab9" stroke-width="2.5" stroke-linejoin="round" stroke-linecap="round" />
<line x1="1302.2" y1="1203.4" x2="1302.4" y2="1324.0" stroke="#4549aa" stroke-width="2.2" />
<line x1="1301.9" y1="1441.0" x2="1301.9" y2="1453.8" stroke="#4549aa" stroke-width="2.0" />
<polyline points="725.6,1107.6 765.2,1107.6" fill="none" stroke="#8488e6" stroke-width="2.8" stroke-linejoin="round" stroke-linecap="round" />
<polyline points="842.4,1107.6 882.2,1107.6" fill="none" stroke="#8488e6" stroke-width="2.8" stroke-linejoin="round" stroke-linecap="round" />
<polyline points="765.4,1128.6 842.2,1128.6" fill="none" stroke="#8488e6" stroke-width="2.8" stroke-linejoin="round" stroke-linecap="round" />
<line x1="765.6" y1="1106.4" x2="765.6" y2="1129.8" stroke="#1212cc" stroke-width="5" />
<line x1="842.2" y1="1106.4" x2="842.2" y2="1129.8" stroke="#1212cc" stroke-width="5" />
<line x1="766.3" y1="1133.3" x2="766.3" y2="1196.5" stroke="#8488e6" stroke-width="3" />
<line x1="841.9" y1="1133.3" x2="841.9" y2="1196.5" stroke="#8488e6" stroke-width="3" />
<line x1="769.5" y1="1164.9" x2="838.8" y2="1164.9" stroke="#2a2ad8" stroke-width="3.2" />
<polyline points="784.5,1156.3 768.6,1164.9 784.5,1173.5" fill="none" stroke="#2a2ad8" stroke-width="3.0" stroke-linejoin="round" stroke-linecap="round" />
<polyline points="823.8,1156.3 839.7,1164.9 823.8,1173.5" fill="none" stroke="#2a2ad8" stroke-width="3.0" stroke-linejoin="round" stroke-linecap="round" />
<text x="784.6" y="1195.5" font-size="26.5" fill="#2626cc" textLength="31.5" lengthAdjust="spacingAndGlyphs" stroke="#2626cc" stroke-width="0.7" stroke-linejoin="round">Δt'</text>
<text x="904.4" y="1153.6" font-size="26.5" fill="#1a1a1a" textLength="233.0" lengthAdjust="spacingAndGlyphs" stroke="#1a1a1a" stroke-width="1.0" stroke-linejoin="round">Δt = 80ms … 640ms</text>
<rect x="709.0" y="1085.2" width="637.6" height="368.6" fill="none" stroke="#7d7d7d" stroke-width="2.6" />
<line x1="709.0" y1="1453.8" x2="709.0" y2="1458.8" stroke="#7d7d7d" stroke-width="2.4" />
<line x1="1346.6" y1="1453.8" x2="1346.6" y2="1458.8" stroke="#7d7d7d" stroke-width="2.4" />
<line x1="709.0" y1="1102.6" x2="716.6" y2="1102.6" stroke="#7d7d7d" stroke-width="2.0" />
<line x1="709.0" y1="1170.1" x2="716.6" y2="1170.1" stroke="#7d7d7d" stroke-width="2.0" />
<line x1="709.0" y1="1237.7" x2="716.6" y2="1237.7" stroke="#7d7d7d" stroke-width="2.0" />
<line x1="709.0" y1="1305.3" x2="716.6" y2="1305.3" stroke="#7d7d7d" stroke-width="2.0" />
<line x1="709.0" y1="1372.8" x2="716.6" y2="1372.8" stroke="#7d7d7d" stroke-width="2.0" />
<line x1="709.0" y1="1136.3" x2="713.2" y2="1136.3" stroke="#7d7d7d" stroke-width="1.9" />
<line x1="709.0" y1="1203.9" x2="713.2" y2="1203.9" stroke="#7d7d7d" stroke-width="1.9" />
<line x1="709.0" y1="1271.5" x2="713.2" y2="1271.5" stroke="#7d7d7d" stroke-width="1.9" />
<line x1="709.0" y1="1339.0" x2="713.2" y2="1339.0" stroke="#7d7d7d" stroke-width="1.9" />
<line x1="709.0" y1="1406.6" x2="713.2" y2="1406.6" stroke="#7d7d7d" stroke-width="1.9" />
<text x="701.2" y="1110.2" font-size="28.5" font-weight="bold" fill="#0c0c0c" text-anchor="end" textLength="66.5" lengthAdjust="spacingAndGlyphs" stroke="#0c0c0c" stroke-width="0.5" stroke-linejoin="round">-500n</text>
<text x="701.2" y="1177.7" font-size="28.5" font-weight="bold" fill="#0c0c0c" text-anchor="end" textLength="66.5" lengthAdjust="spacingAndGlyphs" stroke="#0c0c0c" stroke-width="0.5" stroke-linejoin="round">-400n</text>
<text x="701.2" y="1245.3" font-size="28.5" font-weight="bold" fill="#0c0c0c" text-anchor="end" textLength="66.5" lengthAdjust="spacingAndGlyphs" stroke="#0c0c0c" stroke-width="0.5" stroke-linejoin="round">-300n</text>
<text x="701.2" y="1312.9" font-size="28.5" font-weight="bold" fill="#0c0c0c" text-anchor="end" textLength="66.5" lengthAdjust="spacingAndGlyphs" stroke="#0c0c0c" stroke-width="0.5" stroke-linejoin="round">-200n</text>
<text x="701.2" y="1380.4" font-size="28.5" font-weight="bold" fill="#0c0c0c" text-anchor="end" textLength="66.5" lengthAdjust="spacingAndGlyphs" stroke="#0c0c0c" stroke-width="0.5" stroke-linejoin="round">-100n</text>
<text x="701.0" y="1447.6" font-size="28.5" font-weight="bold" fill="#0c0c0c" text-anchor="end" textLength="15.0" lengthAdjust="spacingAndGlyphs" stroke="#0c0c0c" stroke-width="0.5" stroke-linejoin="round">0</text>
<line x1="758.5" y1="1453.8" x2="758.5" y2="1462.8" stroke="#7d7d7d" stroke-width="2.4" />
<line x1="733.5" y1="1453.8" x2="733.5" y2="1458.3" stroke="#7d7d7d" stroke-width="2" />
<line x1="782.5" y1="1453.8" x2="782.5" y2="1458.3" stroke="#7d7d7d" stroke-width="2" />
<text x="758.5" y="1487.4" font-size="27" font-weight="bold" fill="#0c0c0c" text-anchor="middle" textLength="28.0" lengthAdjust="spacingAndGlyphs" stroke="#0c0c0c" stroke-width="0.5" stroke-linejoin="round">40</text>
<line x1="838.2" y1="1453.8" x2="838.2" y2="1462.8" stroke="#7d7d7d" stroke-width="2.4" />
<line x1="813.2" y1="1453.8" x2="813.2" y2="1458.3" stroke="#7d7d7d" stroke-width="2" />
<line x1="862.2" y1="1453.8" x2="862.2" y2="1458.3" stroke="#7d7d7d" stroke-width="2" />
<text x="838.2" y="1487.4" font-size="27" font-weight="bold" fill="#0c0c0c" text-anchor="middle" textLength="28.0" lengthAdjust="spacingAndGlyphs" stroke="#0c0c0c" stroke-width="0.5" stroke-linejoin="round">40</text>
<line x1="917.9" y1="1453.8" x2="917.9" y2="1462.8" stroke="#7d7d7d" stroke-width="2.4" />
<line x1="892.9" y1="1453.8" x2="892.9" y2="1458.3" stroke="#7d7d7d" stroke-width="2" />
<line x1="941.9" y1="1453.8" x2="941.9" y2="1458.3" stroke="#7d7d7d" stroke-width="2" />
<text x="917.9" y="1487.4" font-size="27" font-weight="bold" fill="#0c0c0c" text-anchor="middle" textLength="28.0" lengthAdjust="spacingAndGlyphs" stroke="#0c0c0c" stroke-width="0.5" stroke-linejoin="round">40</text>
<line x1="997.6" y1="1453.8" x2="997.6" y2="1462.8" stroke="#7d7d7d" stroke-width="2.4" />
<line x1="972.6" y1="1453.8" x2="972.6" y2="1458.3" stroke="#7d7d7d" stroke-width="2" />
<line x1="1021.6" y1="1453.8" x2="1021.6" y2="1458.3" stroke="#7d7d7d" stroke-width="2" />
<text x="997.6" y="1487.4" font-size="27" font-weight="bold" fill="#0c0c0c" text-anchor="middle" textLength="28.0" lengthAdjust="spacingAndGlyphs" stroke="#0c0c0c" stroke-width="0.5" stroke-linejoin="round">40</text>
<line x1="1077.3" y1="1453.8" x2="1077.3" y2="1462.8" stroke="#7d7d7d" stroke-width="2.4" />
<line x1="1052.3" y1="1453.8" x2="1052.3" y2="1458.3" stroke="#7d7d7d" stroke-width="2" />
<line x1="1101.3" y1="1453.8" x2="1101.3" y2="1458.3" stroke="#7d7d7d" stroke-width="2" />
<text x="1077.3" y="1487.4" font-size="27" font-weight="bold" fill="#0c0c0c" text-anchor="middle" textLength="28.0" lengthAdjust="spacingAndGlyphs" stroke="#0c0c0c" stroke-width="0.5" stroke-linejoin="round">40</text>
<line x1="1157.0" y1="1453.8" x2="1157.0" y2="1462.8" stroke="#7d7d7d" stroke-width="2.4" />
<line x1="1132.0" y1="1453.8" x2="1132.0" y2="1458.3" stroke="#7d7d7d" stroke-width="2" />
<line x1="1181.0" y1="1453.8" x2="1181.0" y2="1458.3" stroke="#7d7d7d" stroke-width="2" />
<text x="1157.0" y="1487.4" font-size="27" font-weight="bold" fill="#0c0c0c" text-anchor="middle" textLength="28.0" lengthAdjust="spacingAndGlyphs" stroke="#0c0c0c" stroke-width="0.5" stroke-linejoin="round">40</text>
<line x1="1236.7" y1="1453.8" x2="1236.7" y2="1462.8" stroke="#7d7d7d" stroke-width="2.4" />
<line x1="1211.7" y1="1453.8" x2="1211.7" y2="1458.3" stroke="#7d7d7d" stroke-width="2" />
<line x1="1260.7" y1="1453.8" x2="1260.7" y2="1458.3" stroke="#7d7d7d" stroke-width="2" />
<text x="1236.7" y="1487.4" font-size="27" font-weight="bold" fill="#0c0c0c" text-anchor="middle" textLength="28.0" lengthAdjust="spacingAndGlyphs" stroke="#0c0c0c" stroke-width="0.5" stroke-linejoin="round">40</text>
<line x1="1316.4" y1="1453.8" x2="1316.4" y2="1462.8" stroke="#7d7d7d" stroke-width="2.4" />
<line x1="1291.4" y1="1453.8" x2="1291.4" y2="1458.3" stroke="#7d7d7d" stroke-width="2" />
<line x1="1340.4" y1="1453.8" x2="1340.4" y2="1458.3" stroke="#7d7d7d" stroke-width="2" />
<text x="1316.4" y="1487.4" font-size="27" font-weight="bold" fill="#0c0c0c" text-anchor="middle" textLength="28.0" lengthAdjust="spacingAndGlyphs" stroke="#0c0c0c" stroke-width="0.5" stroke-linejoin="round">40</text>
<text x="979.6" y="1519.4" font-size="30.5" font-weight="bold" fill="#0c0c0c" textLength="114.5" lengthAdjust="spacingAndGlyphs" stroke="#0c0c0c" stroke-width="0.5" stroke-linejoin="round">Time (s)</text>
<text x="615.2" y="1462.0" font-size="31.5" font-weight="bold" fill="#0c0c0c" textLength="377.0" lengthAdjust="spacing" transform="rotate(-90 615.2 1462.0)" stroke="#0c0c0c" stroke-width="0.2" stroke-linejoin="round">Postsynaptic current (A)</text>
</g>
<g filter="url(#blf)">
<line x1="1390.6" y1="827.0" x2="1678.8" y2="827.0" stroke="#2e2e2e" stroke-width="3.8" />
<polygon points="1688.8,827.0 1675.8,820.4 1675.8,833.6" fill="#161616" stroke="none" stroke-width="0" stroke-linejoin="round" />
<line x1="1532.8" y1="976.2" x2="1532.8" y2="683.0" stroke="#2e2e2e" stroke-width="3.6" />
<polygon points="1532.8,673.0 1526.4,687.0 1539.2,687.0" fill="#161616" stroke="none" stroke-width="0" stroke-linejoin="round" />
<path d="M1562,683.6 C1565.8,755.6 1579.2,788.7 1675.4,792.8" fill="none" stroke="#d2565b" stroke-width="4" stroke-linejoin="round" stroke-linecap="round" />
<path d="M1396.2,862.5 C1483.3,864.2 1510.6,903.0 1510.5,972" fill="none" stroke="#44749f" stroke-width="4" stroke-linejoin="round" stroke-linecap="round" />
<text x="1379.5" y="679.4" font-size="25" fill="#141414" textLength="87.8" lengthAdjust="spacingAndGlyphs" stroke="#141414" stroke-width="0.95" stroke-linejoin="round">Hebbian</text>
<text x="1379.5" y="705.3" font-size="25" fill="#141414" textLength="58.0" lengthAdjust="spacingAndGlyphs" stroke="#141414" stroke-width="0.95" stroke-linejoin="round">STDP</text>
<text x="1519.7" y="669.8" font-size="21.5" font-weight="bold" fill="#d4595e" textLength="29.3" lengthAdjust="spacingAndGlyphs">LTP</text>
<text x="1518.8" y="998.3" font-size="21.5" font-weight="bold" fill="#4d7fad" textLength="30.6" lengthAdjust="spacingAndGlyphs">LTD</text>
<text x="1638.6" y="860.5" font-size="21.5" font-weight="bold" fill="#1c1c1c" stroke="#1c1c1c" stroke-width="0.3" textLength="66.5" lengthAdjust="spacingAndGlyphs">Δ<tspan font-style="italic">T</tspan><tspan font-size="11.5" dy="5.2">pre-post</tspan></text>
<line x1="1720.4" y1="825.8" x2="2017.1" y2="825.8" stroke="#2e2e2e" stroke-width="3.8" />
<polygon points="2027.1,825.8 2014.1,819.2 2014.1,832.4" fill="#161616" stroke="none" stroke-width="0" stroke-linejoin="round" />
<line x1="1867.3" y1="982.0" x2="1867.3" y2="678.3" stroke="#2e2e2e" stroke-width="3.6" />
<polygon points="1867.3,668.3 1860.9,682.3 1873.7,682.3" fill="#161616" stroke="none" stroke-width="0" stroke-linejoin="round" />
<path d="M1723.2,791 C1748.9,784.4 1839.7,799.0 1841.1,678" fill="none" stroke="#d2565b" stroke-width="4" stroke-linejoin="round" stroke-linecap="round" />
<path d="M1896.9,984.2 C1903.1,886.7 1928.0,877.7 2013.1,872.4" fill="none" stroke="#44749f" stroke-width="4" stroke-linejoin="round" stroke-linecap="round" />
<text x="1689.8" y="679.5" font-size="25" fill="#141414" textLength="139.4" lengthAdjust="spacingAndGlyphs" stroke="#141414" stroke-width="0.95" stroke-linejoin="round">Anti-Hebbian</text>
<text x="1689.8" y="704.6" font-size="25" fill="#141414" textLength="58.5" lengthAdjust="spacingAndGlyphs" stroke="#141414" stroke-width="0.95" stroke-linejoin="round">STDP</text>
<text x="1852.8" y="662.6" font-size="21.5" font-weight="bold" fill="#d4595e" textLength="30.6" lengthAdjust="spacingAndGlyphs">LTP</text>
<text x="1852.8" y="1003.6" font-size="21.5" font-weight="bold" fill="#4d7fad" textLength="30.6" lengthAdjust="spacingAndGlyphs">LTD</text>
<text x="1975.5" y="860.7" font-size="21.5" font-weight="bold" fill="#1c1c1c" stroke="#1c1c1c" stroke-width="0.3" textLength="66.5" lengthAdjust="spacingAndGlyphs">Δ<tspan font-style="italic">T</tspan><tspan font-size="11.5" dy="5.2">pre-post</tspan></text>
<line x1="1397.6" y1="1313.2" x2="1692.7" y2="1313.2" stroke="#2e2e2e" stroke-width="3.8" />
<polygon points="1702.7,1313.2 1689.7,1306.6 1689.7,1319.8" fill="#161616" stroke="none" stroke-width="0" stroke-linejoin="round" />
<line x1="1543.3" y1="1469.2" x2="1543.3" y2="1164.3" stroke="#2e2e2e" stroke-width="3.6" />
<polygon points="1543.3,1154.3 1536.9,1168.3 1549.7,1168.3" fill="#161616" stroke="none" stroke-width="0" stroke-linejoin="round" />
<path d="M1410.2,1312.3 C1412.7,1312.3 1419.9,1312.2 1425.0,1312.4 C1430.1,1312.6 1437.0,1312.9 1440.8,1313.4 C1444.6,1313.9 1445.7,1314.5 1448.0,1315.6 C1450.3,1316.7 1452.5,1318.2 1454.7,1320.1 C1457.0,1322.0 1459.4,1324.2 1461.5,1327.0 C1463.6,1329.8 1465.5,1332.8 1467.3,1336.8 C1469.1,1340.8 1470.9,1345.9 1472.5,1351.0 C1474.1,1356.1 1475.7,1361.8 1477.0,1367.5 C1478.3,1373.2 1479.4,1379.4 1480.6,1385.0 C1481.8,1390.6 1482.8,1396.4 1484.0,1400.9 C1485.2,1405.4 1486.4,1408.8 1488.0,1412.0 C1489.6,1415.2 1491.5,1417.9 1493.7,1420.4 C1496.0,1422.9 1498.7,1425.4 1501.5,1427.0 C1504.3,1428.6 1507.8,1430.1 1510.5,1430.2 C1513.2,1430.3 1515.7,1429.1 1518.0,1427.5 C1520.3,1425.9 1522.6,1423.0 1524.4,1420.4 C1526.2,1417.8 1527.6,1415.2 1529.0,1412.0 C1530.4,1408.8 1531.6,1405.6 1532.7,1400.9 C1533.8,1396.2 1534.9,1390.0 1535.8,1384.0 C1536.7,1378.0 1537.5,1372.0 1538.3,1364.7 C1539.1,1357.4 1540.0,1348.6 1540.8,1340.0 C1541.6,1331.4 1542.9,1317.7 1543.3,1313.2" fill="none" stroke="#5788b6" stroke-width="4" stroke-linejoin="round" stroke-linecap="round" />
<path d="M1543.3,1313.2 C1543.5,1309.7 1544.2,1298.8 1544.8,1292.0 C1545.4,1285.2 1546.1,1278.9 1546.7,1272.7 C1547.3,1266.5 1547.9,1260.6 1548.6,1255.0 C1549.3,1249.4 1550.1,1244.1 1550.9,1239.3 C1551.7,1234.5 1552.3,1230.2 1553.2,1226.0 C1554.1,1221.8 1555.2,1217.9 1556.4,1214.2 C1557.6,1210.5 1559.0,1207.0 1560.6,1204.0 C1562.2,1201.0 1564.4,1198.0 1566.2,1196.1 C1568.0,1194.2 1569.6,1193.4 1571.4,1192.6 C1573.2,1191.8 1574.9,1191.4 1576.8,1191.4 C1578.7,1191.4 1580.8,1191.8 1582.8,1192.6 C1584.8,1193.4 1586.5,1194.4 1588.5,1196.1 C1590.5,1197.8 1593.0,1200.0 1594.8,1202.5 C1596.6,1205.0 1598.3,1207.8 1599.6,1211.4 C1600.9,1215.0 1601.9,1219.3 1602.8,1224.0 C1603.7,1228.7 1604.3,1234.1 1605.2,1239.3 C1606.1,1244.5 1607.1,1249.9 1608.0,1255.0 C1608.9,1260.1 1609.8,1265.7 1610.8,1270.0 C1611.8,1274.3 1612.8,1277.8 1614.0,1281.0 C1615.2,1284.2 1616.4,1286.9 1617.7,1289.5 C1619.0,1292.1 1620.4,1294.4 1622.0,1296.5 C1623.6,1298.6 1625.3,1300.2 1627.5,1302.0 C1629.7,1303.8 1632.2,1305.6 1635.0,1307.0 C1637.8,1308.4 1640.4,1309.6 1644.2,1310.4 C1648.0,1311.2 1652.9,1311.7 1658.0,1312.0 C1663.1,1312.3 1672.0,1312.2 1674.8,1312.3" fill="none" stroke="#d9575d" stroke-width="4" stroke-linejoin="round" stroke-linecap="round" />
<text x="1375.3" y="1161.4" font-size="25" fill="#141414" textLength="132.4" lengthAdjust="spacingAndGlyphs" stroke="#141414" stroke-width="0.95" stroke-linejoin="round">Symmetrical</text>
<text x="1375.3" y="1186.4" font-size="25" fill="#141414" textLength="57.7" lengthAdjust="spacingAndGlyphs" stroke="#141414" stroke-width="0.95" stroke-linejoin="round">STDP</text>
<text x="1530.0" y="1150.2" font-size="21.5" font-weight="bold" fill="#d4595e" textLength="30.0" lengthAdjust="spacingAndGlyphs">LTP</text>
<text x="1530.0" y="1491.4" font-size="21.5" font-weight="bold" fill="#4d7fad" textLength="30.0" lengthAdjust="spacingAndGlyphs">LTD</text>
<text x="1651.2" y="1347.4" font-size="21.5" font-weight="bold" fill="#1c1c1c" stroke="#1c1c1c" stroke-width="0.3" textLength="66.5" lengthAdjust="spacingAndGlyphs">Δ<tspan font-style="italic">T</tspan><tspan font-size="11.5" dy="5.2">pre-post</tspan></text>
<line x1="1736.8" y1="1311.2" x2="2030.5" y2="1311.2" stroke="#2e2e2e" stroke-width="3.8" />
<polygon points="2040.5,1311.2 2027.5,1304.6 2027.5,1317.8" fill="#161616" stroke="none" stroke-width="0" stroke-linejoin="round" />
<line x1="1881.7" y1="1467.2" x2="1881.7" y2="1163.5" stroke="#2e2e2e" stroke-width="3.6" />
<polygon points="1881.7,1153.5 1875.3,1167.5 1888.1,1167.5" fill="#161616" stroke="none" stroke-width="0" stroke-linejoin="round" />
<path d="M1740.4,1307.6 C1743.7,1307.8 1753.3,1308.5 1760.0,1308.6 C1766.7,1308.7 1775.6,1308.8 1780.8,1308.2 C1786.0,1307.6 1787.8,1306.3 1791.0,1304.8 C1794.2,1303.3 1797.3,1301.3 1800.3,1299.2 C1803.3,1297.1 1806.2,1294.5 1809.0,1292.0 C1811.8,1289.5 1814.2,1287.2 1817.0,1283.9 C1819.8,1280.6 1822.7,1276.2 1825.5,1272.0 C1828.3,1267.8 1831.6,1263.0 1833.7,1258.8 C1835.8,1254.6 1836.8,1251.2 1838.2,1247.0 C1839.6,1242.8 1841.0,1237.9 1842.1,1233.7 C1843.2,1229.5 1844.1,1225.7 1845.0,1222.0 C1845.9,1218.3 1846.6,1214.5 1847.7,1211.4 C1848.8,1208.3 1850.1,1205.8 1851.5,1203.5 C1852.9,1201.2 1854.3,1199.2 1856.0,1197.5 C1857.7,1195.8 1859.6,1194.4 1861.5,1193.2 C1863.4,1192.0 1865.1,1191.2 1867.2,1190.6 C1869.3,1190.0 1871.6,1189.7 1874.0,1189.5 C1876.4,1189.3 1879.0,1189.2 1881.7,1189.2 C1884.4,1189.2 1887.3,1189.3 1890.0,1189.5 C1892.7,1189.7 1895.5,1189.9 1897.8,1190.6 C1900.0,1191.3 1901.6,1192.4 1903.5,1193.8 C1905.4,1195.2 1907.3,1196.7 1909.0,1198.9 C1910.7,1201.1 1912.1,1204.0 1913.5,1207.0 C1914.9,1210.0 1916.2,1213.5 1917.3,1217.0 C1918.4,1220.5 1919.3,1224.3 1920.2,1228.0 C1921.1,1231.7 1921.8,1235.5 1922.9,1239.3 C1924.0,1243.1 1925.4,1247.3 1926.8,1251.0 C1928.2,1254.7 1929.4,1257.8 1931.3,1261.6 C1933.2,1265.3 1935.7,1269.8 1938.0,1273.5 C1940.3,1277.2 1942.7,1280.7 1945.2,1283.9 C1947.7,1287.2 1950.2,1290.2 1953.0,1293.0 C1955.8,1295.8 1959.1,1298.5 1961.9,1300.6 C1964.7,1302.7 1967.2,1304.1 1970.0,1305.4 C1972.8,1306.7 1973.6,1307.8 1978.6,1308.4 C1983.6,1309.0 1992.8,1308.9 2000.0,1308.8 C2007.2,1308.7 2018.2,1307.8 2021.8,1307.6" fill="none" stroke="#d9575d" stroke-width="4" stroke-linejoin="round" stroke-linecap="round" />
<text x="1740.4" y="1155.7" font-size="25" fill="#141414" textLength="64.0" lengthAdjust="spacingAndGlyphs" stroke="#141414" stroke-width="0.95" stroke-linejoin="round">Visual</text>
<text x="1740.4" y="1181.4" font-size="25" fill="#141414" textLength="58.5" lengthAdjust="spacingAndGlyphs" stroke="#141414" stroke-width="0.95" stroke-linejoin="round">STDP</text>
<text x="1867.7" y="1150.2" font-size="21.5" font-weight="bold" fill="#d4595e" textLength="30.0" lengthAdjust="spacingAndGlyphs">LTP</text>
<text x="1867.7" y="1488.6" font-size="21.5" font-weight="bold" fill="#4d7fad" textLength="30.0" lengthAdjust="spacingAndGlyphs">LTD</text>
<text x="1989.2" y="1345.2" font-size="21.5" font-weight="bold" fill="#1c1c1c" stroke="#1c1c1c" stroke-width="0.3" textLength="66.5" lengthAdjust="spacingAndGlyphs">Δ<tspan font-style="italic">T</tspan><tspan font-size="11.5" dy="5.2">pre-post</tspan></text>
</g>
<text x="18.3" y="70.6" font-size="33.5" textLength="39.5" lengthAdjust="spacingAndGlyphs">(a)</text>
<text x="620.2" y="65.9" font-size="33.5" textLength="40.2" lengthAdjust="spacingAndGlyphs">(b)</text>
<text x="11.0" y="762.8" font-size="33.5" textLength="38.0" lengthAdjust="spacingAndGlyphs">(c)</text>
<text x="647.0" y="627.6" font-size="33.5" textLength="40.2" lengthAdjust="spacingAndGlyphs">(d)</text>
<text x="653.2" y="1071.2" font-size="33.5" textLength="39.5" lengthAdjust="spacingAndGlyphs">(e)</text>
<text x="1415.8" y="643.6" font-size="33.5" textLength="30.0" lengthAdjust="spacingAndGlyphs">(f)</text>
</svg></body></html>
